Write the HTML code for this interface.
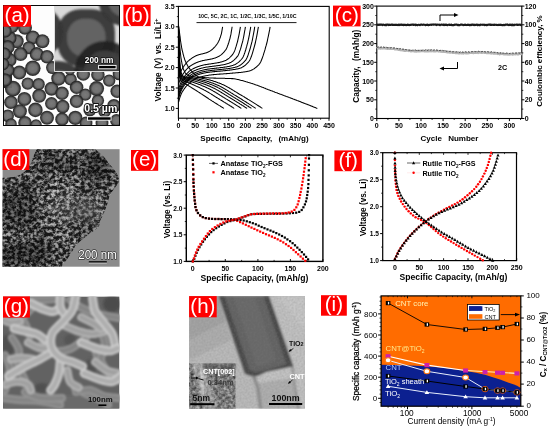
<!DOCTYPE html>
<html><head><meta charset="utf-8"><title>Figure</title>
<style>
html,body{margin:0;padding:0;background:#fff;}
body{width:550px;height:428px;overflow:hidden;font-family:'Liberation Sans', sans-serif;}
svg{display:block;font-family:'Liberation Sans', sans-serif;}
</style></head><body>
<svg width="550" height="428" viewBox="0 0 550 428">
<defs>
<radialGradient id="sph" cx="50%" cy="50%" r="50%">
<stop offset="0" stop-color="#727272"/><stop offset="0.55" stop-color="#696969"/><stop offset="0.72" stop-color="#4a4a4a"/><stop offset="0.88" stop-color="#262626"/><stop offset="1" stop-color="#2e2e2e"/></radialGradient>
<radialGradient id="bigsph" cx="50%" cy="50%" r="50%">
<stop offset="0" stop-color="#6e6e6e"/><stop offset="0.7" stop-color="#606060"/><stop offset="0.8" stop-color="#3a3a3a"/><stop offset="0.95" stop-color="#2e2e2e"/><stop offset="1" stop-color="#555"/></radialGradient>
<clipPath id="clipA"><rect x="3" y="5" width="116.5" height="120.5"/></clipPath>
<clipPath id="clipAin"><rect x="54.5" y="6" width="65" height="65.5"/></clipPath>
<filter id="blurA" x="-5%" y="-5%" width="110%" height="110%"><feGaussianBlur stdDeviation="0.55"/></filter>
<filter id="blurAin" x="-5%" y="-5%" width="110%" height="110%"><feGaussianBlur stdDeviation="1.3"/></filter>

<clipPath id="clipD"><rect x="2.6" y="149.2" width="117" height="117.5"/></clipPath>
<filter id="texD" x="0" y="0" width="100%" height="100%" filterUnits="objectBoundingBox" color-interpolation-filters="sRGB">
<feTurbulence type="fractalNoise" baseFrequency="0.27 0.3" numOctaves="3" seed="11" result="n"/>
<feColorMatrix in="n" type="matrix" values="3.0 0 0 0 -1.12  3.0 0 0 0 -1.12  3.0 0 0 0 -1.12  0 0 0 0 1" result="fine"/>
<feTurbulence type="fractalNoise" baseFrequency="0.03 0.035" numOctaves="2" seed="8" result="n2"/>
<feColorMatrix in="n2" type="matrix" values="0 0.8 0 0 0.42  0 0.8 0 0 0.42  0 0.8 0 0 0.42  0 0 0 0 1" result="low"/>
<feComposite in="fine" in2="low" operator="arithmetic" k1="0.75" k2="0.14" k3="0.06" k4="0.05" result="m0"/>
<feColorMatrix in="m0" type="matrix" values="0.74 0 0 0 0.02  0 0.74 0 0 0.02  0 0 0.74 0 0.02  0 0 0 0 1" result="m"/>
<feComposite in="m" in2="SourceGraphic" operator="in" result="c"/>
<feGaussianBlur in="c" stdDeviation="0.5"/>
</filter>
<clipPath id="clipDb"><path d="M0 178 L14 177 C22 175 28 170 31 163 C33 157 35 152 38 147 L92 147 C98 151 103 155 108 162 C113 169 120 175 119 182 C115 188 111 192 109 198 C107 206 104 214 99.5 222 C101 226 96 230 90 233 C85 238 79 241 75 247 C71 253 68 259 63 264 L60 270 L0 270 Z"/></clipPath><filter id="blurD2" x="-20%" y="-20%" width="140%" height="140%"><feGaussianBlur stdDeviation="5"/></filter>
<clipPath id="clipG"><rect x="3" y="296.4" width="116.5" height="112.3"/></clipPath>
<filter id="blurG" x="-5%" y="-5%" width="110%" height="110%"><feGaussianBlur stdDeviation="0.85"/></filter>
<filter id="blurG2" x="-5%" y="-5%" width="110%" height="110%"><feGaussianBlur stdDeviation="1.6"/></filter>
<clipPath id="clipH"><rect x="189" y="296" width="116" height="112.8"/></clipPath>
<filter id="blurH" x="-5%" y="-5%" width="110%" height="110%"><feGaussianBlur stdDeviation="0.8"/></filter>
<filter id="blurH2" x="-10%" y="-10%" width="120%" height="120%"><feGaussianBlur stdDeviation="1.8"/></filter>
<filter id="texH" x="0" y="0" width="100%" height="100%" color-interpolation-filters="sRGB">
<feTurbulence type="fractalNoise" baseFrequency="0.33" numOctaves="2" seed="4" result="n"/>
<feColorMatrix in="n" type="matrix" values="0.75 0 0 0 0.1  0.75 0 0 0 0.1  0.75 0 0 0 0.1  0 0 0 0 1" result="g"/>
<feComposite in="g" in2="SourceGraphic" operator="in"/>
<feGaussianBlur stdDeviation="0.45"/>
</filter>
<filter id="grainH" x="0" y="0" width="100%" height="100%" color-interpolation-filters="sRGB">
<feTurbulence type="fractalNoise" baseFrequency="0.5" numOctaves="2" seed="9" result="n"/>
<feColorMatrix in="n" type="matrix" values="0 0 0 0 0.5  0 0 0 0 0.5  0 0 0 0 0.5  1.6 0 0 0 -0.55" result="g"/>
<feComposite in="g" in2="SourceGraphic" operator="in"/>
<feGaussianBlur stdDeviation="0.35"/>
</filter>
</defs>
<rect x="3" y="5" width="116.5" height="120.5" fill="#fdfdfd"/>
<g clip-path="url(#clipA)"><g filter="url(#blurA)">
<rect x="3" y="28" width="9" height="60" fill="#2c2c2c"/>
<circle cx="16.7" cy="41.2" r="7.0" fill="url(#sph)" opacity="0.95"/>
<circle cx="32.8" cy="37.4" r="7.0" fill="url(#sph)" opacity="0.95"/>
<circle cx="42.4" cy="41.2" r="7.0" fill="url(#sph)" opacity="0.95"/>
<circle cx="28.9" cy="47.7" r="6.5" fill="url(#sph)" opacity="0.95"/>
<circle cx="20.6" cy="54.1" r="7.0" fill="url(#sph)" opacity="0.95"/>
<circle cx="36.7" cy="54.1" r="7.0" fill="url(#sph)" opacity="0.95"/>
<circle cx="47" cy="56.7" r="6.8" fill="url(#sph)" opacity="0.95"/>
<circle cx="9.6" cy="38" r="7.0" fill="url(#sph)" opacity="0.95"/>
<circle cx="7.7" cy="47" r="7.0" fill="url(#sph)" opacity="0.95"/>
<circle cx="9.6" cy="59.9" r="7.0" fill="url(#sph)" opacity="0.95"/>
<circle cx="32.8" cy="68.2" r="7.8" fill="url(#sph)" opacity="0.95"/>
<circle cx="19.3" cy="72.5" r="7.0" fill="url(#sph)" opacity="0.95"/>
<circle cx="7.7" cy="70.2" r="6.8" fill="url(#sph)" opacity="0.95"/>
<circle cx="25" cy="27.7" r="7.0" fill="url(#sph)" opacity="0.95"/>
<circle cx="11.6" cy="26.4" r="7.0" fill="url(#sph)" opacity="0.95"/>
<circle cx="5" cy="31" r="6.8" fill="url(#sph)" opacity="0.95"/>
<circle cx="4" cy="54" r="6.8" fill="url(#sph)" opacity="0.95"/>
<circle cx="52.5" cy="67.6" r="6.5" fill="url(#sph)" opacity="0.95"/>
<circle cx="3" cy="64" r="6.3" fill="url(#sph)" opacity="0.95"/>
<circle cx="12.9" cy="88.7" r="8.0" fill="url(#sph)" opacity="0.95"/>
<circle cx="27.7" cy="83.6" r="6.2" fill="url(#sph)" opacity="0.95"/>
<circle cx="38.6" cy="84.2" r="6.2" fill="url(#sph)" opacity="0.95"/>
<circle cx="24.4" cy="99" r="7.0" fill="url(#sph)" opacity="0.95"/>
<circle cx="39.2" cy="95.8" r="7.0" fill="url(#sph)" opacity="0.95"/>
<circle cx="51.5" cy="88.7" r="7.0" fill="url(#sph)" opacity="0.95"/>
<circle cx="58.5" cy="78.4" r="7.3" fill="url(#sph)" opacity="0.95"/>
<circle cx="10.9" cy="102.2" r="6.8" fill="url(#sph)" opacity="0.95"/>
<circle cx="19.9" cy="111.2" r="7.0" fill="url(#sph)" opacity="0.95"/>
<circle cx="35.4" cy="109.9" r="7.3" fill="url(#sph)" opacity="0.95"/>
<circle cx="51.5" cy="103.5" r="6.5" fill="url(#sph)" opacity="0.95"/>
<circle cx="47" cy="117.7" r="7.0" fill="url(#sph)" opacity="0.95"/>
<circle cx="25" cy="122.8" r="6.8" fill="url(#sph)" opacity="0.95"/>
<circle cx="7.7" cy="115.7" r="6.3" fill="url(#sph)" opacity="0.95"/>
<circle cx="5" cy="80" r="6.8" fill="url(#sph)" opacity="0.95"/>
<circle cx="11" cy="124" r="5.8" fill="url(#sph)" opacity="0.95"/>
<circle cx="36" cy="125" r="5.8" fill="url(#sph)" opacity="0.95"/>
<circle cx="70.6" cy="79.3" r="6.2" fill="url(#sph)" opacity="0.95"/>
<circle cx="83.3" cy="74" r="6.8" fill="url(#sph)" opacity="0.95"/>
<circle cx="97.9" cy="74.7" r="6.8" fill="url(#sph)" opacity="0.95"/>
<circle cx="109.2" cy="80.6" r="6.2" fill="url(#sph)" opacity="0.95"/>
<circle cx="76.6" cy="87.3" r="6.8" fill="url(#sph)" opacity="0.95"/>
<circle cx="96.6" cy="88.6" r="7.5" fill="url(#sph)" opacity="0.95"/>
<circle cx="117.2" cy="91.3" r="6.8" fill="url(#sph)" opacity="0.95"/>
<circle cx="62" cy="93.3" r="6.8" fill="url(#sph)" opacity="0.95"/>
<circle cx="85.3" cy="94.6" r="6.2" fill="url(#sph)" opacity="0.95"/>
<circle cx="76.6" cy="101.3" r="6.8" fill="url(#sph)" opacity="0.95"/>
<circle cx="97.9" cy="100.6" r="6.2" fill="url(#sph)" opacity="0.95"/>
<circle cx="113.9" cy="105.9" r="6.8" fill="url(#sph)" opacity="0.95"/>
<circle cx="62.7" cy="106.6" r="6.8" fill="url(#sph)" opacity="0.95"/>
<circle cx="75.3" cy="117.9" r="7.2" fill="url(#sph)" opacity="0.95"/>
<circle cx="62" cy="119.2" r="6.8" fill="url(#sph)" opacity="0.95"/>
<circle cx="89.9" cy="109.9" r="6.5" fill="url(#sph)" opacity="0.95"/>
<circle cx="86" cy="123" r="6.5" fill="url(#sph)" opacity="0.95"/>
<circle cx="102" cy="123" r="6.5" fill="url(#sph)" opacity="0.95"/>
<circle cx="116.5" cy="120.5" r="6.5" fill="url(#sph)" opacity="0.95"/>
<circle cx="104.6" cy="111.5" r="6.3" fill="url(#sph)" opacity="0.95"/>
<circle cx="119" cy="74" r="6.3" fill="url(#sph)" opacity="0.95"/>
<circle cx="70" cy="70" r="5.3" fill="url(#sph)" opacity="0.95"/>
</g></g>
<g clip-path="url(#clipAin)"><rect x="54" y="5" width="66" height="67" fill="#d9d9d9"/><g filter="url(#blurAin)">
<rect x="10.0" y="5.5" width="53.0" height="53.0" rx="26.5" fill="#343434" opacity="0.94"/>
<rect x="19.5" y="15.0" width="34.0" height="34.0" rx="17.0" fill="#676767" opacity="0.94"/>
<rect x="98.5" y="-26.0" width="52.0" height="52.0" rx="26.0" fill="#343434" opacity="0.94"/>
<rect x="108.0" y="-16.5" width="33.0" height="33.0" rx="16.5" fill="#676767" opacity="0.94"/>
<rect x="31.0" y="61.0" width="54.0" height="54.0" rx="27.0" fill="#343434" opacity="0.94"/>
<rect x="40.5" y="70.5" width="35.0" height="35.0" rx="17.5" fill="#676767" opacity="0.94"/>
<rect x="57.7" y="9.2" width="57.2" height="57.2" rx="22.5" fill="#343434" opacity="0.94"/>
<rect x="67.2" y="18.7" width="38.2" height="38.2" rx="17.5" fill="#676767" opacity="0.94"/>
<rect x="74.5" y="41.0" width="61.0" height="61.0" rx="30.5" fill="#1e1e1e" opacity="0.9"/>
<rect x="84.0" y="50.5" width="42.0" height="42.0" rx="21.0" fill="#404040" opacity="0.9"/>
</g></g>
<path d="M54.5 6 V71.5 H119" fill="none" stroke="#ddd" stroke-width="1"/>
<rect x="3.5" y="5.5" width="116" height="120" fill="none" stroke="#0a0a0a" stroke-width="1"/>
<text x="99.1" y="62.6" font-size="8.3" font-weight="bold" text-anchor="middle" fill="#fff" stroke="#111" stroke-width="1.5" paint-order="stroke" stroke-linejoin="round">200 nm</text>
<rect x="98.6" y="65.4" width="17.5" height="3.4" fill="#000" stroke="#fff" stroke-width="0.9"/>
<text x="100.8" y="112.2" font-size="10.5" font-weight="bold" text-anchor="middle" fill="#fff" stroke="#111" stroke-width="1.8" paint-order="stroke" stroke-linejoin="round">0.5 µm</text>
<rect x="87.5" y="116.8" width="23.6" height="3.4" fill="#000" stroke="#fff" stroke-width="0.9"/>
<rect x="3.3" y="5.3" width="27.7" height="21.4" fill="#fe0000"/>
<text x="17.1" y="22.3" font-size="20.5" text-anchor="middle" fill="#fff" font-weight="normal">(a)</text>
<rect x="123.4" y="4.8" width="27.2" height="21.3" fill="#fe0000"/>
<text x="137.0" y="21.7" font-size="20.5" text-anchor="middle" fill="#fff" font-weight="normal">(b)</text>
<rect x="178.4" y="6.4" width="150.8" height="111.8" fill="#fff" stroke="#000" stroke-width="1.1"/>
<line x1="178.5" y1="118.2" x2="178.5" y2="120.8" stroke="#000" stroke-width="1"/>
<text x="178.5" y="127.9" font-size="7.0" font-weight="bold" text-anchor="middle" fill="#000" >0</text>
<line x1="186.9" y1="118.2" x2="186.9" y2="119.7" stroke="#000" stroke-width="0.8"/>
<line x1="195.2" y1="118.2" x2="195.2" y2="120.8" stroke="#000" stroke-width="1"/>
<text x="195.2" y="127.9" font-size="7.0" font-weight="bold" text-anchor="middle" fill="#000" >50</text>
<line x1="203.6" y1="118.2" x2="203.6" y2="119.7" stroke="#000" stroke-width="0.8"/>
<line x1="211.9" y1="118.2" x2="211.9" y2="120.8" stroke="#000" stroke-width="1"/>
<text x="211.9" y="127.9" font-size="7.0" font-weight="bold" text-anchor="middle" fill="#000" >100</text>
<line x1="220.3" y1="118.2" x2="220.3" y2="119.7" stroke="#000" stroke-width="0.8"/>
<line x1="228.7" y1="118.2" x2="228.7" y2="120.8" stroke="#000" stroke-width="1"/>
<text x="228.7" y="127.9" font-size="7.0" font-weight="bold" text-anchor="middle" fill="#000" >150</text>
<line x1="237.0" y1="118.2" x2="237.0" y2="119.7" stroke="#000" stroke-width="0.8"/>
<line x1="245.4" y1="118.2" x2="245.4" y2="120.8" stroke="#000" stroke-width="1"/>
<text x="245.4" y="127.9" font-size="7.0" font-weight="bold" text-anchor="middle" fill="#000" >200</text>
<line x1="253.7" y1="118.2" x2="253.7" y2="119.7" stroke="#000" stroke-width="0.8"/>
<line x1="262.1" y1="118.2" x2="262.1" y2="120.8" stroke="#000" stroke-width="1"/>
<text x="262.1" y="127.9" font-size="7.0" font-weight="bold" text-anchor="middle" fill="#000" >250</text>
<line x1="270.5" y1="118.2" x2="270.5" y2="119.7" stroke="#000" stroke-width="0.8"/>
<line x1="278.8" y1="118.2" x2="278.8" y2="120.8" stroke="#000" stroke-width="1"/>
<text x="278.8" y="127.9" font-size="7.0" font-weight="bold" text-anchor="middle" fill="#000" >300</text>
<line x1="287.2" y1="118.2" x2="287.2" y2="119.7" stroke="#000" stroke-width="0.8"/>
<line x1="295.5" y1="118.2" x2="295.5" y2="120.8" stroke="#000" stroke-width="1"/>
<text x="295.5" y="127.9" font-size="7.0" font-weight="bold" text-anchor="middle" fill="#000" >350</text>
<line x1="303.9" y1="118.2" x2="303.9" y2="119.7" stroke="#000" stroke-width="0.8"/>
<line x1="312.3" y1="118.2" x2="312.3" y2="120.8" stroke="#000" stroke-width="1"/>
<text x="312.3" y="127.9" font-size="7.0" font-weight="bold" text-anchor="middle" fill="#000" >400</text>
<line x1="320.6" y1="118.2" x2="320.6" y2="119.7" stroke="#000" stroke-width="0.8"/>
<line x1="329.0" y1="118.2" x2="329.0" y2="120.8" stroke="#000" stroke-width="1"/>
<text x="329.0" y="127.9" font-size="7.0" font-weight="bold" text-anchor="middle" fill="#000" >450</text>
<line x1="175.8" y1="108.4" x2="178.4" y2="108.4" stroke="#000" stroke-width="1"/>
<text x="174.6" y="110.9" font-size="7.0" font-weight="bold" text-anchor="end" fill="#000" >1.0</text>
<line x1="176.9" y1="98.2" x2="178.4" y2="98.2" stroke="#000" stroke-width="0.8"/>
<line x1="175.8" y1="88.0" x2="178.4" y2="88.0" stroke="#000" stroke-width="1"/>
<text x="174.6" y="90.5" font-size="7.0" font-weight="bold" text-anchor="end" fill="#000" >1.5</text>
<line x1="176.9" y1="77.8" x2="178.4" y2="77.8" stroke="#000" stroke-width="0.8"/>
<line x1="175.8" y1="67.6" x2="178.4" y2="67.6" stroke="#000" stroke-width="1"/>
<text x="174.6" y="70.1" font-size="7.0" font-weight="bold" text-anchor="end" fill="#000" >2.0</text>
<line x1="176.9" y1="57.4" x2="178.4" y2="57.4" stroke="#000" stroke-width="0.8"/>
<line x1="175.8" y1="47.2" x2="178.4" y2="47.2" stroke="#000" stroke-width="1"/>
<text x="174.6" y="49.7" font-size="7.0" font-weight="bold" text-anchor="end" fill="#000" >2.5</text>
<line x1="176.9" y1="37.0" x2="178.4" y2="37.0" stroke="#000" stroke-width="0.8"/>
<line x1="175.8" y1="26.8" x2="178.4" y2="26.8" stroke="#000" stroke-width="1"/>
<text x="174.6" y="29.3" font-size="7.0" font-weight="bold" text-anchor="end" fill="#000" >3.0</text>
<line x1="176.9" y1="16.6" x2="178.4" y2="16.6" stroke="#000" stroke-width="0.8"/>
<line x1="175.8" y1="6.4" x2="178.4" y2="6.4" stroke="#000" stroke-width="1"/>
<text x="174.6" y="8.9" font-size="7.0" font-weight="bold" text-anchor="end" fill="#000" >3.5</text>
<text x="254.5" y="141.0" font-size="8.0" font-weight="bold" text-anchor="middle" fill="#000" word-spacing="4">Specific Capacity, (mAh/g)</text>
<text transform="translate(161.2,60) rotate(-90)" font-size="8.2" word-spacing="1.5" font-weight="bold" text-anchor="middle">Voltage (V) vs. Li/Li<tspan dy="-3" font-size="6">+</tspan></text>
<text x="296.5" y="18.3" font-size="5.3" font-weight="bold" text-anchor="end" fill="#000" >10C, 5C, 2C, 1C, 1/2C, 1/3C, 1/5C, 1/10C</text>
<line x1="196.5" y1="22.6" x2="296.5" y2="22.6" stroke="#000" stroke-width="0.9"/>
<path d="M178.5 26.8 L178.5 28.6 L178.5 32.0 L178.6 36.3 L178.6 41.0 L178.7 45.9 L178.7 50.7 L178.8 55.2 L178.9 59.3 L179.0 63.0 L179.0 66.3 L179.1 69.1 L179.2 71.5 L179.3 73.4 L179.4 75.1 L179.5 76.4 L179.6 77.4 L179.8 78.3 L179.9 78.9 L180.0 79.5 L180.1 79.9 L180.3 80.2 L180.4 80.5 L180.5 80.7 L180.7 80.9 L180.8 81.0 L181.0 81.2 L181.1 81.3 L181.3 81.4 L181.5 81.5 L181.6 81.6 L181.8 81.7 L182.0 81.8 L182.1 82.0 L182.3 82.1 L182.5 82.2 L182.7 82.3 L182.9 82.4 L183.1 82.5 L183.3 82.6 L183.4 82.7 L183.6 82.9 L183.9 83.0 L184.1 83.1 L184.3 83.2 L184.5 83.3 L184.7 83.5 L184.9 83.6 L185.1 83.7 L185.3 83.9 L185.6 84.0 L185.8 84.1 L186.0 84.3 L186.3 84.4 L186.5 84.6 L186.7 84.7 L187.0 84.8 L187.2 85.0 L187.5 85.1 L187.7 85.3 L188.0 85.4 L188.2 85.6 L188.5 85.8 L188.7 85.9 L189.0 86.1 L189.3 86.2 L189.5 86.4 L189.8 86.6 L190.1 86.7 L190.3 86.9 L190.6 87.1 L190.9 87.2 L191.2 87.4 L191.5 87.6 L191.7 87.8 L192.0 87.9 L192.3 88.1 L192.6 88.3 L192.9 88.5 L193.2 88.7 L193.5 88.9 L193.8 89.0 L194.1 89.2 L194.4 89.4 L194.7 89.6 L195.0 89.8 L195.3 90.0 L195.7 90.2 L196.0 90.4 L196.3 90.6 L196.6 90.8 L196.9 91.0 L197.3 91.2 L197.6 91.4 L197.9 91.6 L198.3 91.9 L198.6 92.1 L198.9 92.3 L199.3 92.5 L199.6 92.7 L199.9 93.0 L200.3 93.2 L200.6 93.4 L201.0 93.6 L201.3 93.9 L201.7 94.1 L202.0 94.3 L202.4 94.6 L202.7 94.8 L203.1 95.1 L203.5 95.3 L203.8 95.5 L204.2 95.8 L204.6 96.0 L204.9 96.3 L205.3 96.5 L205.7 96.8 L206.1 97.0 L206.4 97.3 L206.8 97.5 L207.2 97.8 L207.6 98.0 L208.0 98.3 L208.4 98.5 L208.7 98.8 L209.1 99.1 L209.5 99.3 L209.9 99.6 L210.3 99.8 L210.7 100.1 L211.1 100.3 L211.5 100.6 L211.9 100.9 L212.3 101.1 L212.7 101.4 L213.2 101.6 L213.6 101.9 L214.0 102.2 L214.4 102.4 L214.8 102.7 L215.2 103.0 L215.7 103.2 L216.1 103.5 L216.5 103.8 L216.9 104.0 L217.4 104.3 L217.8 104.6 L218.2 104.8 L218.6 105.1 L219.1 105.4 L219.5 105.6 L220.0 105.9 L220.4 106.2 L220.8 106.5 L221.3 106.7 L221.7 107.0 L222.2 107.3 L222.6 107.6 L223.1 107.8 L223.5 108.1 L224.0 108.4" fill="none" stroke="#000" stroke-width="1.05" stroke-linejoin="round"/>
<path d="M178.5 26.8 L178.5 28.5 L178.6 31.8 L178.6 35.9 L178.7 40.5 L178.7 45.2 L178.8 49.9 L178.9 54.3 L179.0 58.3 L179.1 61.9 L179.2 65.1 L179.3 67.9 L179.4 70.2 L179.5 72.2 L179.6 73.8 L179.8 75.1 L179.9 76.2 L180.0 77.0 L180.2 77.7 L180.3 78.2 L180.5 78.6 L180.7 78.9 L180.8 79.2 L181.0 79.4 L181.2 79.6 L181.4 79.7 L181.6 79.8 L181.7 79.9 L181.9 80.0 L182.1 80.1 L182.3 80.2 L182.5 80.3 L182.8 80.4 L183.0 80.5 L183.2 80.6 L183.4 80.7 L183.6 80.8 L183.9 80.9 L184.1 80.9 L184.3 81.0 L184.6 81.1 L184.8 81.2 L185.1 81.3 L185.3 81.4 L185.6 81.5 L185.8 81.6 L186.1 81.7 L186.4 81.8 L186.6 82.0 L186.9 82.1 L187.2 82.2 L187.5 82.3 L187.7 82.4 L188.0 82.5 L188.3 82.6 L188.6 82.8 L188.9 82.9 L189.2 83.0 L189.5 83.1 L189.8 83.3 L190.1 83.4 L190.4 83.5 L190.8 83.7 L191.1 83.8 L191.4 83.9 L191.7 84.1 L192.0 84.2 L192.4 84.4 L192.7 84.5 L193.0 84.7 L193.4 84.8 L193.7 85.0 L194.1 85.1 L194.4 85.3 L194.8 85.4 L195.1 85.6 L195.5 85.8 L195.8 85.9 L196.2 86.1 L196.6 86.3 L196.9 86.4 L197.3 86.6 L197.7 86.8 L198.0 87.0 L198.4 87.1 L198.8 87.3 L199.2 87.5 L199.6 87.7 L200.0 87.9 L200.3 88.1 L200.7 88.3 L201.1 88.5 L201.5 88.7 L201.9 88.9 L202.3 89.1 L202.8 89.3 L203.2 89.5 L203.6 89.7 L204.0 89.9 L204.4 90.2 L204.8 90.4 L205.2 90.6 L205.7 90.8 L206.1 91.1 L206.5 91.3 L207.0 91.6 L207.4 91.8 L207.8 92.1 L208.3 92.3 L208.7 92.6 L209.2 92.8 L209.6 93.1 L210.1 93.4 L210.5 93.6 L211.0 93.9 L211.4 94.2 L211.9 94.5 L212.3 94.8 L212.8 95.1 L213.3 95.4 L213.7 95.7 L214.2 96.0 L214.7 96.3 L215.2 96.6 L215.6 96.9 L216.1 97.2 L216.6 97.5 L217.1 97.8 L217.6 98.1 L218.1 98.4 L218.6 98.7 L219.1 99.0 L219.5 99.3 L220.0 99.6 L220.5 99.9 L221.1 100.2 L221.6 100.5 L222.1 100.8 L222.6 101.1 L223.1 101.5 L223.6 101.8 L224.1 102.1 L224.6 102.4 L225.2 102.7 L225.7 103.0 L226.2 103.4 L226.7 103.7 L227.3 104.0 L227.8 104.3 L228.3 104.7 L228.9 105.0 L229.4 105.3 L229.9 105.7 L230.5 106.0 L231.0 106.3 L231.6 106.7 L232.1 107.0 L232.7 107.4 L233.2 107.7 L233.8 108.1 L234.3 108.4" fill="none" stroke="#000" stroke-width="1.05" stroke-linejoin="round"/>
<path d="M178.5 26.8 L178.5 28.4 L178.6 31.4 L178.6 35.3 L178.7 39.6 L178.7 44.0 L178.8 48.4 L178.9 52.7 L179.0 56.6 L179.1 60.2 L179.2 63.3 L179.4 66.1 L179.5 68.5 L179.6 70.5 L179.8 72.2 L179.9 73.6 L180.1 74.7 L180.2 75.6 L180.4 76.3 L180.6 76.9 L180.8 77.4 L180.9 77.7 L181.1 78.0 L181.3 78.3 L181.5 78.4 L181.7 78.6 L181.9 78.7 L182.1 78.8 L182.4 78.9 L182.6 79.0 L182.8 79.1 L183.0 79.2 L183.3 79.3 L183.5 79.3 L183.8 79.4 L184.0 79.5 L184.3 79.5 L184.5 79.6 L184.8 79.7 L185.1 79.8 L185.3 79.9 L185.6 79.9 L185.9 80.0 L186.2 80.1 L186.5 80.2 L186.8 80.3 L187.1 80.4 L187.4 80.4 L187.7 80.5 L188.0 80.6 L188.3 80.7 L188.6 80.8 L188.9 80.9 L189.2 81.0 L189.6 81.1 L189.9 81.2 L190.2 81.3 L190.6 81.4 L190.9 81.5 L191.2 81.7 L191.6 81.8 L191.9 81.9 L192.3 82.0 L192.7 82.1 L193.0 82.2 L193.4 82.4 L193.7 82.5 L194.1 82.6 L194.5 82.8 L194.9 82.9 L195.2 83.0 L195.6 83.2 L196.0 83.3 L196.4 83.4 L196.8 83.6 L197.2 83.7 L197.6 83.9 L198.0 84.0 L198.4 84.2 L198.8 84.3 L199.2 84.5 L199.7 84.6 L200.1 84.8 L200.5 85.0 L200.9 85.1 L201.4 85.3 L201.8 85.5 L202.2 85.7 L202.7 85.9 L203.1 86.0 L203.5 86.2 L204.0 86.4 L204.4 86.6 L204.9 86.8 L205.3 87.0 L205.8 87.2 L206.3 87.4 L206.7 87.7 L207.2 87.9 L207.7 88.1 L208.1 88.3 L208.6 88.5 L209.1 88.8 L209.6 89.0 L210.1 89.3 L210.5 89.5 L211.0 89.8 L211.5 90.0 L212.0 90.3 L212.5 90.6 L213.0 90.9 L213.5 91.2 L214.0 91.4 L214.5 91.7 L215.0 92.0 L215.6 92.4 L216.1 92.7 L216.6 93.0 L217.1 93.3 L217.6 93.6 L218.2 94.0 L218.7 94.3 L219.2 94.6 L219.8 95.0 L220.3 95.3 L220.9 95.6 L221.4 96.0 L221.9 96.3 L222.5 96.7 L223.0 97.0 L223.6 97.4 L224.2 97.7 L224.7 98.0 L225.3 98.4 L225.8 98.7 L226.4 99.1 L227.0 99.4 L227.5 99.8 L228.1 100.1 L228.7 100.5 L229.3 100.8 L229.9 101.2 L230.4 101.5 L231.0 101.9 L231.6 102.3 L232.2 102.6 L232.8 103.0 L233.4 103.4 L234.0 103.7 L234.6 104.1 L235.2 104.5 L235.8 104.9 L236.4 105.3 L237.0 105.6 L237.6 106.0 L238.3 106.4 L238.9 106.8 L239.5 107.2 L240.1 107.6 L240.7 108.0 L241.4 108.4" fill="none" stroke="#000" stroke-width="1.05" stroke-linejoin="round"/>
<path d="M178.5 26.8 L178.5 28.2 L178.6 30.9 L178.6 34.3 L178.7 38.2 L178.8 42.3 L178.9 46.4 L179.0 50.4 L179.1 54.1 L179.2 57.6 L179.3 60.8 L179.4 63.6 L179.6 66.0 L179.7 68.2 L179.9 70.0 L180.1 71.5 L180.2 72.8 L180.4 73.9 L180.6 74.8 L180.8 75.5 L181.0 76.1 L181.2 76.5 L181.4 76.9 L181.6 77.2 L181.8 77.4 L182.0 77.6 L182.2 77.8 L182.5 77.9 L182.7 78.0 L183.0 78.1 L183.2 78.2 L183.5 78.3 L183.7 78.4 L184.0 78.4 L184.3 78.5 L184.5 78.6 L184.8 78.6 L185.1 78.7 L185.4 78.8 L185.7 78.8 L186.0 78.9 L186.3 79.0 L186.6 79.0 L186.9 79.1 L187.2 79.2 L187.5 79.2 L187.8 79.3 L188.2 79.4 L188.5 79.5 L188.8 79.5 L189.2 79.6 L189.5 79.7 L189.9 79.8 L190.2 79.9 L190.6 80.0 L190.9 80.1 L191.3 80.1 L191.6 80.2 L192.0 80.3 L192.4 80.4 L192.8 80.5 L193.2 80.6 L193.5 80.8 L193.9 80.9 L194.3 81.0 L194.7 81.1 L195.1 81.2 L195.5 81.3 L195.9 81.4 L196.3 81.6 L196.8 81.7 L197.2 81.8 L197.6 81.9 L198.0 82.1 L198.5 82.2 L198.9 82.3 L199.3 82.5 L199.8 82.6 L200.2 82.7 L200.7 82.9 L201.1 83.0 L201.6 83.2 L202.0 83.3 L202.5 83.5 L202.9 83.7 L203.4 83.8 L203.9 84.0 L204.4 84.2 L204.8 84.3 L205.3 84.5 L205.8 84.7 L206.3 84.9 L206.8 85.1 L207.3 85.3 L207.8 85.5 L208.3 85.7 L208.8 85.9 L209.3 86.1 L209.8 86.3 L210.3 86.6 L210.8 86.8 L211.3 87.0 L211.9 87.2 L212.4 87.5 L212.9 87.7 L213.4 88.0 L214.0 88.2 L214.5 88.5 L215.1 88.8 L215.6 89.1 L216.1 89.4 L216.7 89.7 L217.2 90.0 L217.8 90.3 L218.4 90.6 L218.9 91.0 L219.5 91.3 L220.0 91.6 L220.6 92.0 L221.2 92.3 L221.8 92.7 L222.3 93.0 L222.9 93.4 L223.5 93.8 L224.1 94.1 L224.7 94.5 L225.3 94.9 L225.9 95.2 L226.5 95.6 L227.1 96.0 L227.7 96.4 L228.3 96.7 L228.9 97.1 L229.5 97.5 L230.1 97.8 L230.7 98.2 L231.4 98.6 L232.0 99.0 L232.6 99.3 L233.2 99.7 L233.9 100.1 L234.5 100.5 L235.1 100.9 L235.8 101.3 L236.4 101.7 L237.1 102.1 L237.7 102.5 L238.4 102.9 L239.0 103.3 L239.7 103.7 L240.3 104.1 L241.0 104.5 L241.7 105.0 L242.3 105.4 L243.0 105.8 L243.7 106.2 L244.3 106.7 L245.0 107.1 L245.7 107.5 L246.4 108.0 L247.1 108.4" fill="none" stroke="#000" stroke-width="1.05" stroke-linejoin="round"/>
<path d="M178.5 26.8 L178.5 28.0 L178.6 30.4 L178.6 33.5 L178.7 37.1 L178.8 40.8 L178.9 44.6 L179.0 48.3 L179.1 51.9 L179.2 55.3 L179.4 58.4 L179.5 61.2 L179.7 63.7 L179.8 65.9 L180.0 67.8 L180.2 69.5 L180.3 70.9 L180.5 72.1 L180.7 73.1 L180.9 74.0 L181.1 74.7 L181.3 75.2 L181.5 75.7 L181.8 76.0 L182.0 76.4 L182.2 76.6 L182.5 76.8 L182.7 77.0 L183.0 77.1 L183.2 77.2 L183.5 77.3 L183.8 77.4 L184.1 77.5 L184.3 77.5 L184.6 77.6 L184.9 77.7 L185.2 77.7 L185.5 77.8 L185.8 77.8 L186.1 77.9 L186.4 77.9 L186.8 78.0 L187.1 78.0 L187.4 78.1 L187.7 78.2 L188.1 78.2 L188.4 78.3 L188.8 78.3 L189.1 78.4 L189.5 78.5 L189.8 78.5 L190.2 78.6 L190.6 78.7 L190.9 78.7 L191.3 78.8 L191.7 78.9 L192.1 79.0 L192.5 79.1 L192.9 79.1 L193.3 79.2 L193.7 79.3 L194.1 79.4 L194.5 79.5 L194.9 79.6 L195.3 79.7 L195.8 79.8 L196.2 79.9 L196.6 80.0 L197.0 80.1 L197.5 80.2 L197.9 80.3 L198.4 80.4 L198.8 80.6 L199.3 80.7 L199.7 80.8 L200.2 80.9 L200.7 81.0 L201.1 81.2 L201.6 81.3 L202.1 81.4 L202.5 81.6 L203.0 81.7 L203.5 81.9 L204.0 82.0 L204.5 82.2 L205.0 82.3 L205.5 82.5 L206.0 82.7 L206.5 82.8 L207.0 83.0 L207.5 83.2 L208.1 83.4 L208.6 83.6 L209.1 83.8 L209.6 84.0 L210.2 84.2 L210.7 84.4 L211.2 84.6 L211.8 84.8 L212.3 85.0 L212.9 85.2 L213.4 85.5 L214.0 85.7 L214.5 85.9 L215.1 86.2 L215.7 86.5 L216.2 86.7 L216.8 87.0 L217.4 87.3 L217.9 87.6 L218.5 87.9 L219.1 88.2 L219.7 88.5 L220.3 88.9 L220.9 89.2 L221.5 89.6 L222.1 89.9 L222.7 90.3 L223.3 90.7 L223.9 91.0 L224.5 91.4 L225.1 91.8 L225.7 92.2 L226.4 92.6 L227.0 93.0 L227.6 93.4 L228.2 93.8 L228.9 94.2 L229.5 94.6 L230.2 95.0 L230.8 95.4 L231.4 95.8 L232.1 96.2 L232.7 96.6 L233.4 97.0 L234.0 97.4 L234.7 97.8 L235.4 98.2 L236.0 98.6 L236.7 99.0 L237.4 99.4 L238.0 99.8 L238.7 100.2 L239.4 100.7 L240.1 101.1 L240.8 101.5 L241.5 102.0 L242.2 102.4 L242.9 102.8 L243.5 103.3 L244.2 103.7 L244.9 104.2 L245.7 104.6 L246.4 105.1 L247.1 105.6 L247.8 106.0 L248.5 106.5 L249.2 107.0 L249.9 107.4 L250.7 107.9 L251.4 108.4" fill="none" stroke="#000" stroke-width="1.05" stroke-linejoin="round"/>
<path d="M178.5 26.8 L178.5 27.9 L178.6 29.9 L178.6 32.6 L178.7 35.7 L178.8 39.0 L178.9 42.4 L179.0 45.8 L179.1 49.1 L179.3 52.3 L179.4 55.3 L179.6 58.1 L179.7 60.6 L179.9 62.9 L180.1 65.0 L180.2 66.8 L180.4 68.4 L180.6 69.8 L180.8 70.9 L181.1 72.0 L181.3 72.8 L181.5 73.5 L181.7 74.2 L182.0 74.7 L182.2 75.1 L182.5 75.4 L182.7 75.7 L183.0 76.0 L183.3 76.1 L183.5 76.3 L183.8 76.4 L184.1 76.6 L184.4 76.7 L184.7 76.7 L185.0 76.8 L185.3 76.9 L185.6 76.9 L185.9 77.0 L186.2 77.0 L186.6 77.1 L186.9 77.1 L187.2 77.2 L187.6 77.2 L187.9 77.3 L188.3 77.3 L188.6 77.4 L189.0 77.4 L189.4 77.5 L189.8 77.5 L190.1 77.6 L190.5 77.7 L190.9 77.7 L191.3 77.8 L191.7 77.8 L192.1 77.9 L192.5 78.0 L192.9 78.0 L193.3 78.1 L193.7 78.2 L194.2 78.3 L194.6 78.3 L195.0 78.4 L195.4 78.5 L195.9 78.6 L196.3 78.7 L196.8 78.8 L197.2 78.9 L197.7 79.0 L198.1 79.0 L198.6 79.1 L199.1 79.2 L199.6 79.4 L200.0 79.5 L200.5 79.6 L201.0 79.7 L201.5 79.8 L202.0 79.9 L202.5 80.0 L203.0 80.2 L203.5 80.3 L204.0 80.4 L204.5 80.5 L205.0 80.7 L205.5 80.8 L206.1 81.0 L206.6 81.1 L207.1 81.3 L207.6 81.5 L208.2 81.6 L208.7 81.8 L209.3 82.0 L209.8 82.2 L210.4 82.3 L210.9 82.5 L211.5 82.7 L212.0 82.9 L212.6 83.1 L213.2 83.3 L213.8 83.6 L214.3 83.8 L214.9 84.0 L215.5 84.2 L216.1 84.5 L216.7 84.7 L217.3 85.0 L217.9 85.2 L218.5 85.5 L219.1 85.8 L219.7 86.1 L220.3 86.4 L220.9 86.7 L221.5 87.1 L222.2 87.4 L222.8 87.7 L223.4 88.1 L224.0 88.5 L224.7 88.8 L225.3 89.2 L226.0 89.6 L226.6 90.0 L227.3 90.4 L227.9 90.8 L228.6 91.2 L229.2 91.6 L229.9 92.0 L230.5 92.4 L231.2 92.9 L231.9 93.3 L232.6 93.7 L233.2 94.1 L233.9 94.6 L234.6 95.0 L235.3 95.4 L236.0 95.8 L236.7 96.3 L237.4 96.7 L238.1 97.1 L238.8 97.5 L239.5 98.0 L240.2 98.4 L240.9 98.8 L241.6 99.3 L242.3 99.7 L243.0 100.2 L243.8 100.6 L244.5 101.1 L245.2 101.5 L246.0 102.0 L246.7 102.5 L247.4 103.0 L248.2 103.4 L248.9 103.9 L249.7 104.4 L250.4 104.9 L251.2 105.4 L251.9 105.9 L252.7 106.4 L253.4 106.9 L254.2 107.4 L255.0 107.9 L255.7 108.4" fill="none" stroke="#000" stroke-width="1.05" stroke-linejoin="round"/>
<path d="M178.5 26.8 L178.5 27.3 L178.6 28.3 L178.6 29.6 L178.7 31.1 L178.8 32.8 L178.9 34.7 L179.1 36.6 L179.2 38.7 L179.3 40.8 L179.5 42.9 L179.7 44.9 L179.8 47.0 L180.0 49.0 L180.2 51.0 L180.4 52.9 L180.6 54.7 L180.8 56.5 L181.0 58.1 L181.3 59.7 L181.5 61.2 L181.8 62.5 L182.0 63.8 L182.3 65.0 L182.5 66.1 L182.8 67.2 L183.1 68.1 L183.4 69.0 L183.7 69.8 L184.0 70.5 L184.3 71.1 L184.6 71.7 L184.9 72.3 L185.2 72.8 L185.5 73.2 L185.9 73.6 L186.2 74.0 L186.6 74.3 L186.9 74.6 L187.3 74.8 L187.6 75.1 L188.0 75.3 L188.4 75.4 L188.8 75.6 L189.1 75.8 L189.5 75.9 L189.9 76.0 L190.3 76.1 L190.7 76.2 L191.1 76.3 L191.6 76.4 L192.0 76.5 L192.4 76.6 L192.8 76.7 L193.3 76.8 L193.7 76.8 L194.1 76.9 L194.6 77.0 L195.1 77.1 L195.5 77.2 L196.0 77.2 L196.4 77.3 L196.9 77.4 L197.4 77.5 L197.9 77.5 L198.4 77.6 L198.9 77.7 L199.3 77.8 L199.8 77.9 L200.4 78.0 L200.9 78.1 L201.4 78.2 L201.9 78.3 L202.4 78.4 L202.9 78.5 L203.5 78.6 L204.0 78.7 L204.5 78.8 L205.1 78.9 L205.6 79.0 L206.2 79.1 L206.7 79.3 L207.3 79.4 L207.9 79.5 L208.4 79.7 L209.0 79.8 L209.6 80.0 L210.2 80.1 L210.7 80.3 L211.3 80.5 L211.9 80.6 L212.5 80.8 L213.1 81.0 L213.7 81.2 L214.3 81.4 L215.0 81.6 L215.6 81.8 L216.2 82.0 L216.8 82.2 L217.4 82.4 L218.1 82.7 L218.7 82.9 L219.3 83.1 L220.0 83.4 L220.6 83.6 L221.3 83.9 L221.9 84.2 L222.6 84.5 L223.3 84.8 L223.9 85.1 L224.6 85.4 L225.3 85.8 L225.9 86.1 L226.6 86.5 L227.3 86.9 L228.0 87.3 L228.7 87.6 L229.4 88.0 L230.1 88.5 L230.8 88.9 L231.5 89.3 L232.2 89.7 L232.9 90.1 L233.6 90.6 L234.3 91.0 L235.0 91.5 L235.8 91.9 L236.5 92.4 L237.2 92.8 L238.0 93.3 L238.7 93.7 L239.5 94.2 L240.2 94.6 L240.9 95.0 L241.7 95.5 L242.5 95.9 L243.2 96.4 L244.0 96.8 L244.7 97.3 L245.5 97.8 L246.3 98.2 L247.1 98.7 L247.8 99.2 L248.6 99.6 L249.4 100.1 L250.2 100.6 L251.0 101.1 L251.8 101.6 L252.6 102.1 L253.4 102.6 L254.2 103.1 L255.0 103.6 L255.8 104.1 L256.6 104.6 L257.5 105.2 L258.3 105.7 L259.1 106.2 L259.9 106.8 L260.8 107.3 L261.6 107.9 L262.4 108.4" fill="none" stroke="#000" stroke-width="1.05" stroke-linejoin="round"/>
<path d="M178.5 24.8 L178.5 25.2 L178.6 25.9 L178.8 26.8 L178.9 27.9 L179.0 29.1 L179.2 30.4 L179.4 31.8 L179.6 33.4 L179.8 35.1 L180.1 36.9 L180.3 38.7 L180.5 40.6 L180.8 42.5 L181.1 44.3 L181.4 46.0 L181.6 47.4 L181.9 48.9 L182.2 50.3 L182.6 51.7 L182.9 53.0 L183.2 54.3 L183.6 55.6 L183.9 56.9 L184.3 58.1 L184.6 59.2 L185.0 60.2 L185.4 61.2 L185.8 62.1 L186.2 62.9 L186.6 63.7 L187.0 64.5 L187.4 65.3 L187.8 66.0 L188.2 66.7 L188.7 67.4 L189.1 68.0 L189.5 68.6 L190.0 69.2 L190.4 69.8 L190.9 70.4 L191.4 70.9 L191.9 71.4 L192.3 71.9 L192.8 72.4 L193.3 72.8 L193.8 73.3 L194.3 73.8 L194.8 74.3 L195.3 74.7 L195.8 75.2 L196.4 75.6 L196.9 76.0 L197.4 76.3 L198.0 76.6 L198.5 76.8 L199.1 77.0 L199.6 77.0 L200.2 77.1 L200.7 77.2 L201.3 77.3 L201.9 77.3 L202.5 77.4 L203.0 77.5 L203.6 77.5 L204.2 77.6 L204.8 77.6 L205.4 77.7 L206.0 77.7 L206.6 77.7 L207.2 77.8 L207.9 77.8 L208.5 77.8 L209.1 77.9 L209.7 77.9 L210.4 77.9 L211.0 78.0 L211.7 78.0 L212.3 78.0 L213.0 78.0 L213.6 78.1 L214.3 78.1 L214.9 78.1 L215.6 78.1 L216.3 78.2 L217.0 78.2 L217.6 78.2 L218.3 78.2 L219.0 78.2 L219.7 78.2 L220.4 78.2 L221.1 78.3 L221.8 78.3 L222.5 78.3 L223.2 78.3 L223.9 78.3 L224.7 78.3 L225.4 78.4 L226.1 78.4 L226.8 78.4 L227.6 78.4 L228.3 78.4 L229.0 78.5 L229.8 78.5 L230.5 78.5 L231.3 78.6 L232.0 78.6 L232.8 78.6 L233.6 78.7 L234.3 78.8 L235.1 78.9 L235.9 79.1 L236.7 79.2 L237.4 79.4 L238.2 79.5 L239.0 79.7 L239.8 79.9 L240.6 80.2 L241.4 80.4 L242.2 80.6 L243.0 80.8 L243.8 81.0 L244.6 81.3 L245.4 81.5 L246.2 81.7 L247.1 81.9 L247.9 82.2 L248.7 82.4 L249.6 82.7 L250.4 82.9 L251.2 83.2 L252.1 83.5 L252.9 83.8 L253.8 84.1 L254.6 84.4 L255.5 84.7 L256.3 85.0 L257.2 85.3 L258.0 85.6 L258.9 85.9 L259.8 86.3 L260.6 86.6 L261.5 86.9 L262.4 87.3 L263.3 87.6 L264.2 88.0 L265.1 88.3 L265.9 88.7 L266.8 89.0 L267.7 89.4 L268.6 89.7 L269.5 90.1 L270.4 90.4 L271.4 90.8 L272.3 91.1 L273.2 91.5 L274.1 91.8 L275.0 92.2 L275.9 92.5 L276.9 92.8 L277.8 93.2 L278.7 93.5 L279.7 93.9 L280.6 94.2 L281.5 94.6 L282.5 94.9 L283.4 95.3 L284.4 95.7 L285.3 96.0 L286.3 96.4 L287.3 96.7 L288.2 97.1 L289.2 97.5 L290.1 97.8 L291.1 98.2 L292.1 98.6 L293.1 99.0 L294.0 99.3 L295.0 99.7 L296.0 100.1 L297.0 100.5 L298.0 100.8 L299.0 101.2 L300.0 101.6 L301.0 102.0 L302.0 102.4 L303.0 102.8 L304.0 103.2 L305.0 103.6 L306.0 103.9 L307.0 104.3 L308.0 104.7 L309.0 105.1 L310.1 105.5 L311.1 105.9 L312.1 106.3 L313.1 106.8 L314.2 107.2 L315.2 107.6 L316.2 108.0 L317.3 108.4" fill="none" stroke="#000" stroke-width="1.05" stroke-linejoin="round"/>
<path d="M178.5 76.6 L178.8 75.9 L179.1 75.3 L179.3 74.6 L179.6 74.0 L179.9 73.4 L180.2 72.8 L180.4 72.2 L180.7 71.6 L181.0 71.1 L181.3 70.5 L181.5 70.0 L181.8 69.5 L182.1 69.0 L182.4 68.5 L182.6 68.0 L182.9 67.6 L183.2 67.2 L183.5 66.8 L183.7 66.4 L184.0 66.0 L184.3 65.6 L184.6 65.2 L184.8 64.8 L185.1 64.5 L185.4 64.1 L185.7 63.8 L185.9 63.4 L186.2 63.1 L186.5 62.8 L186.8 62.5 L187.0 62.2 L187.3 61.9 L187.6 61.6 L187.9 61.4 L188.1 61.1 L188.4 60.9 L188.7 60.6 L189.0 60.4 L189.2 60.2 L189.5 60.0 L189.8 59.7 L190.1 59.5 L190.3 59.3 L190.6 59.1 L190.9 58.9 L191.2 58.7 L191.4 58.5 L191.7 58.3 L192.0 58.1 L192.3 57.9 L192.5 57.7 L192.8 57.6 L193.1 57.4 L193.4 57.2 L193.7 57.1 L193.9 56.9 L194.2 56.7 L194.5 56.6 L194.8 56.4 L195.0 56.3 L195.3 56.1 L195.6 56.0 L195.9 55.9 L196.1 55.7 L196.4 55.6 L196.7 55.5 L197.0 55.4 L197.2 55.3 L197.5 55.2 L197.8 55.1 L198.1 55.0 L198.3 54.9 L198.6 54.8 L198.9 54.7 L199.2 54.6 L199.4 54.5 L199.7 54.5 L200.0 54.4 L200.3 54.3 L200.5 54.2 L200.8 54.2 L201.1 54.1 L201.4 54.0 L201.6 54.0 L201.9 53.9 L202.2 53.9 L202.5 53.8 L202.7 53.7 L203.0 53.7 L203.3 53.6 L203.6 53.5 L203.8 53.5 L204.1 53.4 L204.4 53.3 L204.7 53.3 L204.9 53.2 L205.2 53.1 L205.5 53.0 L205.8 52.9 L206.0 52.9 L206.3 52.8 L206.6 52.7 L206.9 52.6 L207.1 52.5 L207.4 52.4 L207.7 52.2 L208.0 52.1 L208.2 52.0 L208.5 51.9 L208.8 51.7 L209.1 51.6 L209.4 51.4 L209.6 51.3 L209.9 51.1 L210.2 50.9 L210.5 50.7 L210.7 50.5 L211.0 50.4 L211.3 50.1 L211.6 49.9 L211.8 49.7 L212.1 49.5 L212.4 49.3 L212.7 49.0 L212.9 48.8 L213.2 48.5 L213.5 48.2 L213.8 48.0 L214.0 47.7 L214.3 47.4 L214.6 47.1 L214.9 46.8 L215.1 46.5 L215.4 46.2 L215.7 45.8 L216.0 45.5 L216.2 45.1 L216.5 44.8 L216.8 44.4 L217.1 44.0 L217.3 43.6 L217.6 43.2 L217.9 42.7 L218.2 42.3 L218.4 41.7 L218.7 41.2 L219.0 40.6 L219.3 40.0 L219.5 39.3 L219.8 38.6 L220.1 37.8 L220.4 37.0 L220.6 36.2 L220.9 35.3 L221.2 34.3 L221.5 33.3 L221.7 32.1 L222.0 30.5 L222.3 28.7 L222.6 26.8" fill="none" stroke="#000" stroke-width="1.05" stroke-linejoin="round"/>
<path d="M178.5 84.3 L178.8 83.2 L179.2 82.2 L179.5 81.2 L179.8 80.3 L180.2 79.5 L180.5 78.7 L180.8 78.0 L181.2 77.3 L181.5 76.6 L181.9 76.0 L182.2 75.4 L182.5 74.8 L182.9 74.3 L183.2 73.8 L183.5 73.3 L183.9 72.8 L184.2 72.3 L184.5 71.9 L184.9 71.4 L185.2 71.0 L185.5 70.6 L185.9 70.2 L186.2 69.8 L186.5 69.4 L186.9 69.0 L187.2 68.6 L187.5 68.3 L187.9 68.0 L188.2 67.6 L188.6 67.3 L188.9 67.1 L189.2 66.8 L189.6 66.5 L189.9 66.3 L190.2 66.1 L190.6 65.8 L190.9 65.6 L191.2 65.4 L191.6 65.2 L191.9 65.0 L192.2 64.8 L192.6 64.6 L192.9 64.4 L193.2 64.2 L193.6 64.0 L193.9 63.9 L194.2 63.7 L194.6 63.5 L194.9 63.3 L195.3 63.2 L195.6 63.0 L195.9 62.9 L196.3 62.7 L196.6 62.6 L196.9 62.4 L197.3 62.3 L197.6 62.2 L197.9 62.0 L198.3 61.9 L198.6 61.8 L198.9 61.7 L199.3 61.6 L199.6 61.5 L199.9 61.4 L200.3 61.3 L200.6 61.2 L200.9 61.1 L201.3 61.0 L201.6 60.9 L202.0 60.8 L202.3 60.7 L202.6 60.6 L203.0 60.6 L203.3 60.5 L203.6 60.4 L204.0 60.4 L204.3 60.3 L204.6 60.2 L205.0 60.2 L205.3 60.1 L205.6 60.0 L206.0 60.0 L206.3 59.9 L206.6 59.9 L207.0 59.8 L207.3 59.8 L207.6 59.7 L208.0 59.6 L208.3 59.6 L208.7 59.5 L209.0 59.5 L209.3 59.4 L209.7 59.3 L210.0 59.3 L210.3 59.2 L210.7 59.1 L211.0 59.1 L211.3 59.0 L211.7 58.9 L212.0 58.9 L212.3 58.8 L212.7 58.7 L213.0 58.6 L213.3 58.5 L213.7 58.4 L214.0 58.3 L214.3 58.2 L214.7 58.1 L215.0 58.0 L215.4 57.9 L215.7 57.8 L216.0 57.6 L216.4 57.5 L216.7 57.4 L217.0 57.2 L217.4 57.1 L217.7 56.9 L218.0 56.7 L218.4 56.6 L218.7 56.4 L219.0 56.2 L219.4 56.0 L219.7 55.8 L220.0 55.6 L220.4 55.4 L220.7 55.1 L221.0 54.9 L221.4 54.6 L221.7 54.3 L222.1 54.0 L222.4 53.7 L222.7 53.4 L223.1 53.0 L223.4 52.7 L223.7 52.3 L224.1 51.9 L224.4 51.5 L224.7 51.1 L225.1 50.7 L225.4 50.3 L225.7 49.8 L226.1 49.3 L226.4 48.7 L226.7 48.0 L227.1 47.2 L227.4 46.4 L227.7 45.5 L228.1 44.5 L228.4 43.5 L228.8 42.5 L229.1 41.4 L229.4 40.2 L229.8 39.0 L230.1 37.8 L230.4 36.4 L230.8 34.9 L231.1 33.2 L231.4 31.2 L231.8 29.0 L232.1 26.8" fill="none" stroke="#000" stroke-width="1.05" stroke-linejoin="round"/>
<path d="M178.5 89.4 L178.9 88.1 L179.3 86.8 L179.7 85.6 L180.0 84.5 L180.4 83.5 L180.8 82.7 L181.2 81.8 L181.6 81.1 L182.0 80.4 L182.4 79.7 L182.8 79.0 L183.1 78.4 L183.5 77.8 L183.9 77.3 L184.3 76.7 L184.7 76.2 L185.1 75.7 L185.5 75.3 L185.8 74.8 L186.2 74.3 L186.6 73.9 L187.0 73.5 L187.4 73.1 L187.8 72.7 L188.2 72.3 L188.6 71.9 L188.9 71.5 L189.3 71.2 L189.7 70.9 L190.1 70.6 L190.5 70.3 L190.9 70.1 L191.3 69.8 L191.6 69.6 L192.0 69.4 L192.4 69.1 L192.8 68.9 L193.2 68.7 L193.6 68.5 L194.0 68.3 L194.4 68.2 L194.7 68.0 L195.1 67.8 L195.5 67.6 L195.9 67.5 L196.3 67.3 L196.7 67.1 L197.1 67.0 L197.4 66.8 L197.8 66.7 L198.2 66.6 L198.6 66.4 L199.0 66.3 L199.4 66.2 L199.8 66.0 L200.2 65.9 L200.5 65.8 L200.9 65.7 L201.3 65.6 L201.7 65.5 L202.1 65.4 L202.5 65.3 L202.9 65.2 L203.2 65.1 L203.6 65.0 L204.0 64.9 L204.4 64.8 L204.8 64.8 L205.2 64.7 L205.6 64.6 L206.0 64.6 L206.3 64.5 L206.7 64.4 L207.1 64.4 L207.5 64.3 L207.9 64.2 L208.3 64.2 L208.7 64.1 L209.0 64.1 L209.4 64.0 L209.8 64.0 L210.2 63.9 L210.6 63.9 L211.0 63.8 L211.4 63.8 L211.8 63.7 L212.1 63.6 L212.5 63.6 L212.9 63.5 L213.3 63.5 L213.7 63.4 L214.1 63.3 L214.5 63.3 L214.8 63.2 L215.2 63.2 L215.6 63.1 L216.0 63.0 L216.4 63.0 L216.8 62.9 L217.2 62.8 L217.6 62.8 L217.9 62.7 L218.3 62.6 L218.7 62.6 L219.1 62.5 L219.5 62.4 L219.9 62.3 L220.3 62.2 L220.6 62.1 L221.0 62.0 L221.4 61.9 L221.8 61.8 L222.2 61.7 L222.6 61.6 L223.0 61.4 L223.4 61.3 L223.7 61.1 L224.1 61.0 L224.5 60.9 L224.9 60.7 L225.3 60.5 L225.7 60.4 L226.1 60.2 L226.4 60.0 L226.8 59.7 L227.2 59.5 L227.6 59.3 L228.0 59.0 L228.4 58.7 L228.8 58.4 L229.2 58.1 L229.5 57.7 L229.9 57.4 L230.3 57.0 L230.7 56.6 L231.1 56.2 L231.5 55.8 L231.9 55.4 L232.2 54.9 L232.6 54.4 L233.0 53.9 L233.4 53.3 L233.8 52.6 L234.2 51.8 L234.6 50.9 L235.0 49.9 L235.3 48.8 L235.7 47.6 L236.1 46.4 L236.5 45.1 L236.9 43.7 L237.3 42.4 L237.7 41.0 L238.0 39.4 L238.4 37.7 L238.8 35.9 L239.2 33.9 L239.6 31.7 L240.0 29.3 L240.4 26.8" fill="none" stroke="#000" stroke-width="1.05" stroke-linejoin="round"/>
<path d="M178.5 92.5 L178.9 91.0 L179.3 89.6 L179.8 88.2 L180.2 87.0 L180.6 85.9 L181.0 85.0 L181.4 84.2 L181.8 83.4 L182.3 82.6 L182.7 81.9 L183.1 81.2 L183.5 80.6 L183.9 79.9 L184.4 79.4 L184.8 78.8 L185.2 78.3 L185.6 77.8 L186.0 77.3 L186.4 76.8 L186.9 76.4 L187.3 75.9 L187.7 75.5 L188.1 75.0 L188.5 74.6 L188.9 74.2 L189.4 73.8 L189.8 73.5 L190.2 73.1 L190.6 72.8 L191.0 72.5 L191.5 72.3 L191.9 72.0 L192.3 71.8 L192.7 71.6 L193.1 71.3 L193.5 71.1 L194.0 70.9 L194.4 70.7 L194.8 70.5 L195.2 70.4 L195.6 70.2 L196.1 70.0 L196.5 69.8 L196.9 69.7 L197.3 69.5 L197.7 69.4 L198.1 69.2 L198.6 69.1 L199.0 68.9 L199.4 68.8 L199.8 68.7 L200.2 68.5 L200.7 68.4 L201.1 68.3 L201.5 68.2 L201.9 68.1 L202.3 68.0 L202.7 67.9 L203.2 67.8 L203.6 67.7 L204.0 67.6 L204.4 67.5 L204.8 67.4 L205.3 67.3 L205.7 67.3 L206.1 67.2 L206.5 67.1 L206.9 67.0 L207.3 67.0 L207.8 66.9 L208.2 66.9 L208.6 66.8 L209.0 66.7 L209.4 66.7 L209.8 66.6 L210.3 66.6 L210.7 66.5 L211.1 66.5 L211.5 66.4 L211.9 66.4 L212.4 66.3 L212.8 66.3 L213.2 66.2 L213.6 66.2 L214.0 66.1 L214.4 66.1 L214.9 66.0 L215.3 65.9 L215.7 65.9 L216.1 65.8 L216.5 65.8 L217.0 65.7 L217.4 65.7 L217.8 65.6 L218.2 65.5 L218.6 65.5 L219.0 65.4 L219.5 65.4 L219.9 65.3 L220.3 65.2 L220.7 65.2 L221.1 65.1 L221.6 65.0 L222.0 65.0 L222.4 64.9 L222.8 64.8 L223.2 64.7 L223.6 64.7 L224.1 64.6 L224.5 64.5 L224.9 64.4 L225.3 64.3 L225.7 64.2 L226.2 64.1 L226.6 63.9 L227.0 63.8 L227.4 63.7 L227.8 63.6 L228.2 63.4 L228.7 63.3 L229.1 63.1 L229.5 63.0 L229.9 62.8 L230.3 62.6 L230.8 62.4 L231.2 62.2 L231.6 61.9 L232.0 61.6 L232.4 61.3 L232.8 61.0 L233.3 60.7 L233.7 60.4 L234.1 60.0 L234.5 59.6 L234.9 59.2 L235.3 58.8 L235.8 58.4 L236.2 57.9 L236.6 57.4 L237.0 56.9 L237.4 56.4 L237.9 55.8 L238.3 55.0 L238.7 54.1 L239.1 53.1 L239.5 51.9 L239.9 50.7 L240.4 49.4 L240.8 48.1 L241.2 46.6 L241.6 45.2 L242.0 43.7 L242.5 42.1 L242.9 40.4 L243.3 38.5 L243.7 36.6 L244.1 34.4 L244.5 32.0 L245.0 29.4 L245.4 26.8" fill="none" stroke="#000" stroke-width="1.05" stroke-linejoin="round"/>
<path d="M178.5 95.1 L179.0 93.5 L179.4 91.9 L179.9 90.4 L180.3 89.1 L180.8 88.0 L181.2 87.0 L181.7 86.1 L182.1 85.3 L182.6 84.5 L183.0 83.7 L183.5 83.0 L183.9 82.3 L184.4 81.7 L184.8 81.1 L185.3 80.6 L185.7 80.0 L186.2 79.5 L186.6 79.0 L187.1 78.5 L187.5 78.0 L188.0 77.6 L188.4 77.1 L188.9 76.7 L189.3 76.3 L189.8 75.9 L190.2 75.5 L190.7 75.1 L191.1 74.8 L191.6 74.5 L192.0 74.2 L192.5 73.9 L192.9 73.6 L193.4 73.4 L193.8 73.2 L194.3 73.0 L194.8 72.8 L195.2 72.6 L195.7 72.4 L196.1 72.2 L196.6 72.0 L197.0 71.9 L197.5 71.7 L197.9 71.5 L198.4 71.4 L198.8 71.2 L199.3 71.1 L199.7 70.9 L200.2 70.8 L200.6 70.7 L201.1 70.6 L201.5 70.4 L202.0 70.3 L202.4 70.2 L202.9 70.1 L203.3 70.0 L203.8 69.9 L204.2 69.8 L204.7 69.7 L205.1 69.6 L205.6 69.5 L206.0 69.4 L206.5 69.4 L206.9 69.3 L207.4 69.2 L207.8 69.1 L208.3 69.1 L208.7 69.0 L209.2 68.9 L209.6 68.9 L210.1 68.8 L210.6 68.8 L211.0 68.7 L211.5 68.7 L211.9 68.6 L212.4 68.6 L212.8 68.5 L213.3 68.5 L213.7 68.4 L214.2 68.4 L214.6 68.3 L215.1 68.3 L215.5 68.2 L216.0 68.2 L216.4 68.1 L216.9 68.1 L217.3 68.0 L217.8 68.0 L218.2 67.9 L218.7 67.9 L219.1 67.8 L219.6 67.8 L220.0 67.7 L220.5 67.6 L220.9 67.6 L221.4 67.5 L221.8 67.5 L222.3 67.4 L222.7 67.4 L223.2 67.3 L223.6 67.2 L224.1 67.2 L224.5 67.1 L225.0 67.1 L225.4 67.0 L225.9 66.9 L226.4 66.9 L226.8 66.8 L227.3 66.7 L227.7 66.6 L228.2 66.5 L228.6 66.4 L229.1 66.4 L229.5 66.3 L230.0 66.2 L230.4 66.0 L230.9 65.9 L231.3 65.8 L231.8 65.7 L232.2 65.6 L232.7 65.4 L233.1 65.3 L233.6 65.1 L234.0 65.0 L234.5 64.8 L234.9 64.6 L235.4 64.4 L235.8 64.1 L236.3 63.8 L236.7 63.6 L237.2 63.2 L237.6 62.9 L238.1 62.6 L238.5 62.2 L239.0 61.8 L239.4 61.4 L239.9 61.0 L240.3 60.5 L240.8 60.0 L241.3 59.5 L241.7 59.0 L242.2 58.4 L242.6 57.8 L243.1 56.9 L243.5 56.0 L244.0 54.9 L244.4 53.7 L244.9 52.4 L245.3 51.0 L245.8 49.5 L246.2 47.9 L246.7 46.4 L247.1 44.7 L247.6 43.1 L248.0 41.2 L248.5 39.2 L248.9 37.1 L249.4 34.7 L249.8 32.2 L250.3 29.5 L250.7 26.8" fill="none" stroke="#000" stroke-width="1.05" stroke-linejoin="round"/>
<path d="M178.5 97.1 L179.0 95.4 L179.5 93.8 L179.9 92.2 L180.4 90.8 L180.9 89.6 L181.4 88.6 L181.8 87.6 L182.3 86.8 L182.8 85.9 L183.3 85.2 L183.7 84.5 L184.2 83.8 L184.7 83.1 L185.2 82.5 L185.6 82.0 L186.1 81.4 L186.6 80.9 L187.1 80.4 L187.6 79.9 L188.0 79.4 L188.5 78.9 L189.0 78.4 L189.5 78.0 L189.9 77.6 L190.4 77.2 L190.9 76.8 L191.4 76.4 L191.8 76.1 L192.3 75.7 L192.8 75.5 L193.3 75.2 L193.7 74.9 L194.2 74.7 L194.7 74.5 L195.2 74.3 L195.7 74.1 L196.1 73.9 L196.6 73.7 L197.1 73.6 L197.6 73.4 L198.0 73.2 L198.5 73.1 L199.0 72.9 L199.5 72.7 L199.9 72.6 L200.4 72.5 L200.9 72.3 L201.4 72.2 L201.8 72.1 L202.3 72.0 L202.8 71.8 L203.3 71.7 L203.8 71.6 L204.2 71.5 L204.7 71.4 L205.2 71.3 L205.7 71.2 L206.1 71.2 L206.6 71.1 L207.1 71.0 L207.6 70.9 L208.0 70.9 L208.5 70.8 L209.0 70.7 L209.5 70.7 L210.0 70.6 L210.4 70.5 L210.9 70.5 L211.4 70.4 L211.9 70.4 L212.3 70.3 L212.8 70.3 L213.3 70.2 L213.8 70.2 L214.2 70.1 L214.7 70.1 L215.2 70.0 L215.7 70.0 L216.1 69.9 L216.6 69.9 L217.1 69.8 L217.6 69.8 L218.1 69.7 L218.5 69.7 L219.0 69.6 L219.5 69.6 L220.0 69.5 L220.4 69.5 L220.9 69.4 L221.4 69.4 L221.9 69.3 L222.3 69.3 L222.8 69.2 L223.3 69.2 L223.8 69.1 L224.2 69.1 L224.7 69.0 L225.2 69.0 L225.7 68.9 L226.2 68.8 L226.6 68.8 L227.1 68.7 L227.6 68.7 L228.1 68.6 L228.5 68.5 L229.0 68.5 L229.5 68.4 L230.0 68.3 L230.4 68.3 L230.9 68.2 L231.4 68.1 L231.9 68.0 L232.3 67.9 L232.8 67.8 L233.3 67.7 L233.8 67.6 L234.3 67.5 L234.7 67.4 L235.2 67.3 L235.7 67.1 L236.2 67.0 L236.6 66.9 L237.1 66.7 L237.6 66.5 L238.1 66.3 L238.5 66.1 L239.0 65.9 L239.5 65.6 L240.0 65.3 L240.4 65.0 L240.9 64.7 L241.4 64.3 L241.9 63.9 L242.4 63.5 L242.8 63.1 L243.3 62.7 L243.8 62.2 L244.3 61.7 L244.7 61.2 L245.2 60.7 L245.7 60.1 L246.2 59.4 L246.6 58.5 L247.1 57.5 L247.6 56.3 L248.1 55.1 L248.5 53.7 L249.0 52.2 L249.5 50.6 L250.0 49.0 L250.5 47.3 L250.9 45.6 L251.4 43.8 L251.9 41.9 L252.4 39.8 L252.8 37.5 L253.3 35.0 L253.8 32.4 L254.3 29.6 L254.7 26.8" fill="none" stroke="#000" stroke-width="1.05" stroke-linejoin="round"/>
<path d="M178.5 98.9 L179.0 97.1 L179.5 95.4 L180.0 93.7 L180.5 92.3 L181.0 91.0 L181.5 90.0 L182.0 89.0 L182.5 88.1 L183.0 87.2 L183.5 86.5 L184.0 85.7 L184.5 85.0 L185.0 84.4 L185.5 83.8 L186.0 83.2 L186.5 82.6 L187.0 82.1 L187.5 81.6 L188.0 81.1 L188.5 80.6 L189.0 80.1 L189.5 79.6 L190.0 79.2 L190.5 78.7 L191.0 78.3 L191.5 77.9 L192.0 77.5 L192.5 77.2 L193.0 76.9 L193.5 76.6 L194.0 76.3 L194.5 76.1 L195.0 75.9 L195.5 75.7 L196.0 75.5 L196.5 75.3 L197.0 75.1 L197.5 74.9 L198.0 74.7 L198.5 74.6 L199.0 74.4 L199.5 74.2 L200.0 74.1 L200.5 73.9 L201.0 73.8 L201.5 73.7 L202.0 73.5 L202.5 73.4 L203.0 73.3 L203.5 73.2 L204.0 73.1 L204.5 73.0 L205.0 72.9 L205.5 72.8 L206.0 72.7 L206.5 72.6 L207.0 72.5 L207.5 72.4 L208.0 72.4 L208.5 72.3 L209.0 72.2 L209.5 72.2 L210.0 72.1 L210.5 72.0 L211.0 72.0 L211.5 71.9 L212.0 71.9 L212.5 71.8 L213.0 71.7 L213.5 71.7 L214.0 71.6 L214.5 71.6 L215.0 71.6 L215.5 71.5 L216.0 71.5 L216.5 71.4 L217.0 71.4 L217.5 71.3 L218.0 71.3 L218.5 71.2 L219.0 71.2 L219.5 71.2 L220.0 71.1 L220.5 71.1 L221.0 71.0 L221.5 71.0 L222.0 70.9 L222.5 70.9 L223.0 70.8 L223.5 70.8 L224.0 70.7 L224.5 70.7 L225.0 70.6 L225.5 70.6 L226.0 70.5 L226.5 70.4 L227.0 70.4 L227.5 70.3 L228.0 70.3 L228.5 70.2 L229.0 70.2 L229.5 70.1 L229.9 70.1 L230.4 70.0 L230.9 70.0 L231.4 69.9 L231.9 69.8 L232.4 69.8 L232.9 69.7 L233.4 69.6 L233.9 69.5 L234.4 69.5 L234.9 69.4 L235.4 69.3 L235.9 69.2 L236.4 69.1 L236.9 69.0 L237.4 68.9 L237.9 68.8 L238.4 68.7 L238.9 68.5 L239.4 68.4 L239.9 68.2 L240.4 68.1 L240.9 67.9 L241.4 67.7 L241.9 67.4 L242.4 67.1 L242.9 66.9 L243.4 66.5 L243.9 66.2 L244.4 65.9 L244.9 65.5 L245.4 65.1 L245.9 64.6 L246.4 64.2 L246.9 63.7 L247.4 63.2 L247.9 62.7 L248.4 62.1 L248.9 61.5 L249.4 60.8 L249.9 59.9 L250.4 58.8 L250.9 57.6 L251.4 56.3 L251.9 54.8 L252.4 53.3 L252.9 51.6 L253.4 49.9 L253.9 48.1 L254.4 46.3 L254.9 44.5 L255.4 42.5 L255.9 40.2 L256.4 37.9 L256.9 35.3 L257.4 32.6 L257.9 29.7 L258.4 26.8" fill="none" stroke="#000" stroke-width="1.05" stroke-linejoin="round"/>
<path d="M178.5 102.3 L179.1 100.3 L179.6 98.4 L180.2 96.6 L180.8 95.0 L181.4 93.6 L181.9 92.5 L182.5 91.5 L183.1 90.6 L183.7 89.7 L184.2 88.8 L184.8 88.1 L185.4 87.3 L185.9 86.7 L186.5 86.0 L187.1 85.4 L187.7 84.9 L188.2 84.3 L188.8 83.8 L189.4 83.2 L190.0 82.7 L190.5 82.2 L191.1 81.8 L191.7 81.3 L192.2 80.9 L192.8 80.4 L193.4 80.0 L194.0 79.7 L194.5 79.3 L195.1 79.0 L195.7 78.7 L196.3 78.4 L196.8 78.2 L197.4 78.0 L198.0 77.8 L198.5 77.6 L199.1 77.4 L199.7 77.2 L200.3 77.1 L200.8 76.9 L201.4 76.7 L202.0 76.6 L202.6 76.4 L203.1 76.3 L203.7 76.2 L204.3 76.0 L204.8 75.9 L205.4 75.8 L206.0 75.7 L206.6 75.6 L207.1 75.5 L207.7 75.4 L208.3 75.3 L208.9 75.2 L209.4 75.1 L210.0 75.0 L210.6 74.9 L211.1 74.9 L211.7 74.8 L212.3 74.7 L212.9 74.7 L213.4 74.6 L214.0 74.6 L214.6 74.5 L215.2 74.5 L215.7 74.4 L216.3 74.4 L216.9 74.3 L217.4 74.3 L218.0 74.2 L218.6 74.2 L219.2 74.1 L219.7 74.1 L220.3 74.1 L220.9 74.0 L221.4 74.0 L222.0 73.9 L222.6 73.9 L223.2 73.9 L223.7 73.8 L224.3 73.8 L224.9 73.7 L225.5 73.7 L226.0 73.7 L226.6 73.6 L227.2 73.6 L227.7 73.5 L228.3 73.5 L228.9 73.4 L229.5 73.4 L230.0 73.3 L230.6 73.3 L231.2 73.2 L231.8 73.2 L232.3 73.1 L232.9 73.1 L233.5 73.0 L234.0 73.0 L234.6 72.9 L235.2 72.9 L235.8 72.8 L236.3 72.8 L236.9 72.7 L237.5 72.7 L238.1 72.6 L238.6 72.6 L239.2 72.5 L239.8 72.5 L240.3 72.4 L240.9 72.4 L241.5 72.3 L242.1 72.2 L242.6 72.2 L243.2 72.1 L243.8 72.0 L244.4 71.9 L244.9 71.8 L245.5 71.8 L246.1 71.7 L246.6 71.6 L247.2 71.5 L247.8 71.3 L248.4 71.2 L248.9 71.1 L249.5 70.9 L250.1 70.7 L250.7 70.5 L251.2 70.3 L251.8 70.0 L252.4 69.7 L252.9 69.4 L253.5 69.1 L254.1 68.7 L254.7 68.3 L255.2 67.9 L255.8 67.4 L256.4 67.0 L257.0 66.5 L257.5 65.9 L258.1 65.4 L258.7 64.8 L259.2 64.2 L259.8 63.4 L260.4 62.5 L261.0 61.3 L261.5 60.0 L262.1 58.5 L262.7 56.9 L263.3 55.2 L263.8 53.4 L264.4 51.6 L265.0 49.7 L265.5 47.7 L266.1 45.7 L266.7 43.5 L267.3 41.1 L267.8 38.5 L268.4 35.8 L269.0 32.9 L269.6 29.9 L270.1 26.8" fill="none" stroke="#000" stroke-width="1.05" stroke-linejoin="round"/>
<rect x="333" y="5.6" width="27.6" height="20.8" fill="#fe0000"/>
<text x="346.8" y="22.0" font-size="20.5" text-anchor="middle" fill="#fff" font-weight="normal">(c)</text>
<rect x="376.8" y="6.1" width="145.0" height="112.4" fill="#fff" stroke="#000" stroke-width="1.1"/>
<line x1="376.8" y1="118.5" x2="376.8" y2="121.1" stroke="#000" stroke-width="1"/>
<text x="376.8" y="127.9" font-size="7.0" font-weight="bold" text-anchor="middle" fill="#000" >0</text>
<line x1="387.9" y1="118.5" x2="387.9" y2="120.0" stroke="#000" stroke-width="0.8"/>
<line x1="398.9" y1="118.5" x2="398.9" y2="121.1" stroke="#000" stroke-width="1"/>
<text x="398.9" y="127.9" font-size="7.0" font-weight="bold" text-anchor="middle" fill="#000" >50</text>
<line x1="409.9" y1="118.5" x2="409.9" y2="120.0" stroke="#000" stroke-width="0.8"/>
<line x1="421.0" y1="118.5" x2="421.0" y2="121.1" stroke="#000" stroke-width="1"/>
<text x="421.0" y="127.9" font-size="7.0" font-weight="bold" text-anchor="middle" fill="#000" >100</text>
<line x1="432.1" y1="118.5" x2="432.1" y2="120.0" stroke="#000" stroke-width="0.8"/>
<line x1="443.1" y1="118.5" x2="443.1" y2="121.1" stroke="#000" stroke-width="1"/>
<text x="443.1" y="127.9" font-size="7.0" font-weight="bold" text-anchor="middle" fill="#000" >150</text>
<line x1="454.2" y1="118.5" x2="454.2" y2="120.0" stroke="#000" stroke-width="0.8"/>
<line x1="465.2" y1="118.5" x2="465.2" y2="121.1" stroke="#000" stroke-width="1"/>
<text x="465.2" y="127.9" font-size="7.0" font-weight="bold" text-anchor="middle" fill="#000" >200</text>
<line x1="476.2" y1="118.5" x2="476.2" y2="120.0" stroke="#000" stroke-width="0.8"/>
<line x1="487.3" y1="118.5" x2="487.3" y2="121.1" stroke="#000" stroke-width="1"/>
<text x="487.3" y="127.9" font-size="7.0" font-weight="bold" text-anchor="middle" fill="#000" >250</text>
<line x1="498.4" y1="118.5" x2="498.4" y2="120.0" stroke="#000" stroke-width="0.8"/>
<line x1="509.4" y1="118.5" x2="509.4" y2="121.1" stroke="#000" stroke-width="1"/>
<text x="509.4" y="127.9" font-size="7.0" font-weight="bold" text-anchor="middle" fill="#000" >300</text>
<line x1="520.5" y1="118.5" x2="520.5" y2="120.0" stroke="#000" stroke-width="0.8"/>
<line x1="374.2" y1="118.5" x2="376.8" y2="118.5" stroke="#000" stroke-width="1"/>
<text x="373.9" y="121.0" font-size="7.0" font-weight="bold" text-anchor="end" fill="#000" >0</text>
<line x1="521.8" y1="118.5" x2="524.4" y2="118.5" stroke="#000" stroke-width="1"/>
<text x="524.7" y="121.0" font-size="7.0" font-weight="bold" text-anchor="start" fill="#000" >0</text>
<line x1="375.3" y1="109.1" x2="376.8" y2="109.1" stroke="#000" stroke-width="0.8"/>
<line x1="521.8" y1="109.1" x2="523.3" y2="109.1" stroke="#000" stroke-width="0.8"/>
<line x1="374.2" y1="99.8" x2="376.8" y2="99.8" stroke="#000" stroke-width="1"/>
<text x="373.9" y="102.3" font-size="7.0" font-weight="bold" text-anchor="end" fill="#000" >50</text>
<line x1="521.8" y1="99.8" x2="524.4" y2="99.8" stroke="#000" stroke-width="1"/>
<text x="524.7" y="102.3" font-size="7.0" font-weight="bold" text-anchor="start" fill="#000" >20</text>
<line x1="375.3" y1="90.4" x2="376.8" y2="90.4" stroke="#000" stroke-width="0.8"/>
<line x1="521.8" y1="90.4" x2="523.3" y2="90.4" stroke="#000" stroke-width="0.8"/>
<line x1="374.2" y1="81.0" x2="376.8" y2="81.0" stroke="#000" stroke-width="1"/>
<text x="373.9" y="83.5" font-size="7.0" font-weight="bold" text-anchor="end" fill="#000" >100</text>
<line x1="521.8" y1="81.0" x2="524.4" y2="81.0" stroke="#000" stroke-width="1"/>
<text x="524.7" y="83.5" font-size="7.0" font-weight="bold" text-anchor="start" fill="#000" >40</text>
<line x1="375.3" y1="71.7" x2="376.8" y2="71.7" stroke="#000" stroke-width="0.8"/>
<line x1="521.8" y1="71.7" x2="523.3" y2="71.7" stroke="#000" stroke-width="0.8"/>
<line x1="374.2" y1="62.3" x2="376.8" y2="62.3" stroke="#000" stroke-width="1"/>
<text x="373.9" y="64.8" font-size="7.0" font-weight="bold" text-anchor="end" fill="#000" >150</text>
<line x1="521.8" y1="62.3" x2="524.4" y2="62.3" stroke="#000" stroke-width="1"/>
<text x="524.7" y="64.8" font-size="7.0" font-weight="bold" text-anchor="start" fill="#000" >60</text>
<line x1="375.3" y1="52.9" x2="376.8" y2="52.9" stroke="#000" stroke-width="0.8"/>
<line x1="521.8" y1="52.9" x2="523.3" y2="52.9" stroke="#000" stroke-width="0.8"/>
<line x1="374.2" y1="43.6" x2="376.8" y2="43.6" stroke="#000" stroke-width="1"/>
<text x="373.9" y="46.1" font-size="7.0" font-weight="bold" text-anchor="end" fill="#000" >200</text>
<line x1="521.8" y1="43.6" x2="524.4" y2="43.6" stroke="#000" stroke-width="1"/>
<text x="524.7" y="46.1" font-size="7.0" font-weight="bold" text-anchor="start" fill="#000" >80</text>
<line x1="375.3" y1="34.2" x2="376.8" y2="34.2" stroke="#000" stroke-width="0.8"/>
<line x1="521.8" y1="34.2" x2="523.3" y2="34.2" stroke="#000" stroke-width="0.8"/>
<line x1="374.2" y1="24.8" x2="376.8" y2="24.8" stroke="#000" stroke-width="1"/>
<text x="373.9" y="27.3" font-size="7.0" font-weight="bold" text-anchor="end" fill="#000" >250</text>
<line x1="521.8" y1="24.8" x2="524.4" y2="24.8" stroke="#000" stroke-width="1"/>
<text x="524.7" y="27.3" font-size="7.0" font-weight="bold" text-anchor="start" fill="#000" >100</text>
<line x1="375.3" y1="15.5" x2="376.8" y2="15.5" stroke="#000" stroke-width="0.8"/>
<line x1="521.8" y1="15.5" x2="523.3" y2="15.5" stroke="#000" stroke-width="0.8"/>
<line x1="374.2" y1="6.1" x2="376.8" y2="6.1" stroke="#000" stroke-width="1"/>
<text x="373.9" y="8.6" font-size="7.0" font-weight="bold" text-anchor="end" fill="#000" >300</text>
<line x1="521.8" y1="6.1" x2="524.4" y2="6.1" stroke="#000" stroke-width="1"/>
<text x="524.7" y="8.6" font-size="7.0" font-weight="bold" text-anchor="start" fill="#000" >120</text>
<text x="449.5" y="141.0" font-size="8.0" font-weight="bold" text-anchor="middle" fill="#000" word-spacing="4">Cycle Number</text>
<text transform="translate(358.9,66.2) rotate(-90)" font-size="8.3" word-spacing="3" font-weight="bold" text-anchor="middle">Capacity,  (mAh/g)</text>
<text transform="translate(542.4,61) rotate(-90)" font-size="8.0" font-weight="bold" text-anchor="middle">Coulombic efficiency, %</text>
<text x="502.5" y="70.1" font-size="7.2" font-weight="bold" text-anchor="middle" fill="#000" >2C</text>
<path d="M376.8 24.7 L377.2 24.6 L377.7 24.9 L378.1 24.5 L378.6 24.9 L379.0 24.7 L379.5 24.5 L379.9 24.8 L380.3 24.5 L380.8 24.8 L381.2 24.5 L381.7 24.5 L382.1 24.8 L382.5 25.1 L383.0 24.6 L383.4 24.6 L383.9 24.9 L384.3 25.1 L384.8 24.9 L385.2 24.8 L385.6 25.2 L386.1 24.5 L386.5 25.1 L387.0 24.7 L387.4 24.6 L387.9 24.6 L388.3 24.7 L388.7 25.1 L389.2 24.6 L389.6 24.9 L390.1 24.9 L390.5 24.7 L390.9 24.9 L391.4 24.5 L391.8 24.5 L392.3 24.6 L392.7 25.0 L393.2 24.8 L393.6 24.7 L394.0 24.9 L394.5 24.8 L394.9 24.7 L395.4 25.0 L395.8 25.0 L396.2 24.7 L396.7 24.9 L397.1 24.9 L397.6 25.1 L398.0 25.0 L398.5 24.7 L398.9 25.2 L399.3 24.6 L399.8 24.8 L400.2 25.0 L400.7 24.6 L401.1 24.8 L401.6 24.5 L402.0 25.0 L402.4 25.0 L402.9 24.9 L403.3 25.1 L403.8 24.7 L404.2 25.0 L404.6 24.9 L405.1 24.9 L405.5 24.8 L406.0 25.1 L406.4 25.1 L406.9 24.8 L407.3 24.9 L407.7 24.5 L408.2 25.0 L408.6 24.9 L409.1 25.2 L409.5 25.1 L409.9 24.7 L410.4 24.8 L410.8 25.0 L411.3 24.5 L411.7 24.8 L412.2 24.6 L412.6 24.6 L413.0 24.5 L413.5 25.0 L413.9 24.6 L414.4 24.7 L414.8 24.8 L415.3 25.1 L415.7 24.5 L416.1 24.8 L416.6 24.9 L417.0 25.1 L417.5 25.1 L417.9 25.1 L418.3 24.7 L418.8 24.8 L419.2 24.7 L419.7 25.1 L420.1 25.2 L420.6 24.6 L421.0 24.6 L421.4 24.6 L421.9 24.6 L422.3 24.8 L422.8 24.9 L423.2 24.7 L423.7 24.5 L424.1 24.8 L424.5 24.7 L425.0 24.9 L425.4 25.2 L425.9 25.0 L426.3 24.8 L426.7 24.9 L427.2 25.0 L427.6 24.5 L428.1 25.1 L428.5 25.0 L429.0 25.1 L429.4 25.0 L429.8 24.8 L430.3 24.8 L430.7 24.6 L431.2 24.9 L431.6 24.5 L432.1 24.5 L432.5 24.6 L432.9 24.6 L433.4 24.7 L433.8 24.5 L434.3 24.5 L434.7 24.6 L435.1 24.6 L435.6 24.7 L436.0 24.5 L436.5 25.1 L436.9 24.9 L437.4 24.6 L437.8 24.7 L438.2 24.7 L438.7 24.7 L439.1 24.6 L439.6 25.1 L440.0 25.2 L440.4 24.8 L440.9 24.8 L441.3 24.5 L441.8 24.6 L442.2 24.7 L442.7 24.7 L443.1 25.1 L443.5 24.6 L444.0 24.5 L444.4 25.1 L444.9 24.9 L445.3 24.6 L445.8 24.9 L446.2 24.5 L446.6 24.9 L447.1 25.2 L447.5 25.1 L448.0 25.0 L448.4 24.7 L448.8 24.7 L449.3 24.6 L449.7 25.0 L450.2 24.9 L450.6 25.0 L451.1 24.7 L451.5 24.6 L451.9 25.1 L452.4 25.2 L452.8 25.1 L453.3 25.0 L453.7 25.1 L454.2 25.0 L454.6 24.6 L455.0 24.8 L455.5 24.7 L455.9 24.5 L456.4 24.5 L456.8 24.7 L457.2 24.7 L457.7 25.0 L458.1 25.2 L458.6 24.8 L459.0 25.1 L459.5 25.2 L459.9 25.2 L460.3 24.7 L460.8 24.6 L461.2 24.6 L461.7 24.6 L462.1 24.6 L462.5 24.9 L463.0 25.1 L463.4 25.1 L463.9 24.8 L464.3 24.9 L464.8 25.0 L465.2 24.5 L465.6 24.9 L466.1 25.1 L466.5 25.0 L467.0 25.0 L467.4 24.8 L467.9 24.6 L468.3 25.0 L468.7 24.7 L469.2 25.0 L469.6 25.2 L470.1 24.8 L470.5 24.8 L470.9 25.1 L471.4 25.0 L471.8 24.6 L472.3 24.6 L472.7 24.6 L473.2 25.1 L473.6 25.0 L474.0 24.6 L474.5 25.1 L474.9 25.2 L475.4 24.9 L475.8 24.7 L476.2 24.9 L476.7 24.6 L477.1 24.5 L477.6 25.2 L478.0 24.9 L478.5 24.9 L478.9 25.1 L479.3 24.8 L479.8 25.1 L480.2 25.1 L480.7 24.6 L481.1 24.7 L481.6 24.7 L482.0 24.7 L482.4 24.9 L482.9 24.7 L483.3 24.8 L483.8 24.6 L484.2 25.1 L484.6 24.7 L485.1 24.8 L485.5 24.9 L486.0 25.1 L486.4 24.8 L486.9 25.1 L487.3 24.8 L487.7 24.9 L488.2 24.8 L488.6 24.5 L489.1 24.8 L489.5 24.6 L490.0 24.5 L490.4 25.0 L490.8 24.6 L491.3 24.8 L491.7 25.0 L492.2 24.9 L492.6 24.7 L493.0 24.8 L493.5 24.9 L493.9 25.0 L494.4 24.6 L494.8 24.9 L495.3 24.7 L495.7 24.7 L496.1 25.0 L496.6 24.8 L497.0 24.9 L497.5 25.0 L497.9 25.1 L498.4 24.8 L498.8 24.9 L499.2 24.8 L499.7 24.8 L500.1 25.0 L500.6 24.8 L501.0 24.9 L501.4 24.8 L501.9 25.1 L502.3 25.0 L502.8 25.1 L503.2 25.1 L503.7 24.7 L504.1 24.9 L504.5 25.1 L505.0 25.1 L505.4 24.6 L505.9 24.6 L506.3 24.8 L506.7 24.5 L507.2 24.7 L507.6 24.5 L508.1 25.0 L508.5 25.0 L509.0 25.1 L509.4 24.6 L509.8 25.0 L510.3 24.9 L510.7 24.6 L511.2 25.1 L511.6 25.2 L512.1 24.6 L512.5 25.2 L512.9 24.8 L513.4 24.8 L513.8 25.2 L514.3 25.1 L514.7 24.6 L515.1 24.8 L515.6 24.8 L516.0 24.7 L516.5 24.6 L516.9 24.7 L517.4 25.0 L517.8 24.5 L518.2 24.9 L518.7 24.8 L519.1 24.5 L519.6 24.7 L520.0 24.9 L520.5 24.8 L520.9 24.5 L521.3 25.2 L521.8 25.0" fill="none" stroke="#1a1a1a" stroke-width="2.1" stroke-linejoin="round"/>
<path d="M376.8 48.5 L377.2 48.0 L377.7 48.1 L378.1 47.9 L378.6 48.4 L379.0 48.1 L379.5 48.0 L379.9 48.2 L380.3 48.5 L380.8 48.4 L381.2 48.1 L381.7 48.0 L382.1 48.5 L382.5 48.3 L383.0 48.4 L383.4 48.0 L383.9 48.0 L384.3 48.4 L384.8 48.3 L385.2 48.1 L385.6 48.6 L386.1 48.5 L386.5 48.6 L387.0 48.2 L387.4 48.7 L387.9 48.2 L388.3 48.7 L388.7 48.5 L389.2 48.5 L389.6 48.6 L390.1 48.9 L390.5 48.6 L390.9 48.5 L391.4 48.8 L391.8 48.7 L392.3 48.6 L392.7 48.7 L393.2 48.7 L393.6 48.8 L394.0 48.9 L394.5 49.0 L394.9 49.3 L395.4 49.1 L395.8 49.3 L396.2 49.1 L396.7 49.3 L397.1 49.2 L397.6 49.4 L398.0 49.3 L398.5 49.8 L398.9 49.7 L399.3 49.6 L399.8 49.8 L400.2 50.1 L400.7 49.7 L401.1 50.2 L401.6 50.0 L402.0 50.1 L402.4 50.4 L402.9 50.2 L403.3 50.3 L403.8 50.4 L404.2 50.7 L404.6 50.3 L405.1 50.7 L405.5 50.7 L406.0 50.7 L406.4 50.6 L406.9 50.6 L407.3 50.5 L407.7 50.6 L408.2 50.6 L408.6 51.0 L409.1 50.8 L409.5 50.7 L409.9 50.7 L410.4 51.2 L410.8 51.3 L411.3 51.2 L411.7 51.0 L412.2 51.0 L412.6 51.0 L413.0 51.1 L413.5 51.0 L413.9 51.2 L414.4 51.1 L414.8 51.5 L415.3 51.5 L415.7 51.3 L416.1 51.1 L416.6 51.5 L417.0 51.1 L417.5 51.2 L417.9 51.0 L418.3 51.2 L418.8 51.2 L419.2 51.3 L419.7 51.1 L420.1 51.2 L420.6 50.9 L421.0 51.1 L421.4 51.0 L421.9 51.1 L422.3 50.9 L422.8 50.9 L423.2 51.1 L423.7 51.0 L424.1 51.2 L424.5 51.2 L425.0 51.3 L425.4 51.2 L425.9 51.2 L426.3 51.3 L426.7 51.0 L427.2 51.0 L427.6 51.3 L428.1 50.8 L428.5 51.2 L429.0 51.1 L429.4 50.7 L429.8 51.2 L430.3 51.2 L430.7 51.1 L431.2 51.1 L431.6 51.2 L432.1 50.8 L432.5 51.0 L432.9 51.0 L433.4 51.2 L433.8 51.2 L434.3 51.2 L434.7 51.1 L435.1 51.3 L435.6 51.2 L436.0 51.2 L436.5 51.0 L436.9 50.9 L437.4 51.0 L437.8 51.1 L438.2 51.0 L438.7 51.5 L439.1 51.3 L439.6 51.4 L440.0 51.4 L440.4 51.5 L440.9 51.4 L441.3 51.2 L441.8 51.7 L442.2 51.7 L442.7 51.6 L443.1 51.6 L443.5 51.8 L444.0 51.5 L444.4 51.9 L444.9 51.7 L445.3 51.6 L445.8 51.8 L446.2 52.1 L446.6 51.8 L447.1 52.2 L447.5 52.4 L448.0 52.1 L448.4 52.1 L448.8 52.2 L449.3 52.4 L449.7 52.5 L450.2 52.5 L450.6 52.5 L451.1 52.2 L451.5 52.3 L451.9 52.4 L452.4 52.7 L452.8 52.5 L453.3 52.7 L453.7 52.4 L454.2 52.5 L454.6 52.7 L455.0 52.9 L455.5 53.0 L455.9 53.0 L456.4 52.8 L456.8 53.0 L457.2 52.9 L457.7 53.0 L458.1 52.8 L458.6 53.3 L459.0 52.9 L459.5 53.3 L459.9 53.3 L460.3 52.8 L460.8 53.1 L461.2 53.3 L461.7 53.4 L462.1 53.1 L462.5 53.0 L463.0 52.9 L463.4 53.4 L463.9 52.9 L464.3 53.1 L464.8 52.9 L465.2 53.1 L465.6 53.3 L466.1 52.8 L466.5 53.2 L467.0 53.0 L467.4 53.2 L467.9 53.1 L468.3 52.8 L468.7 53.2 L469.2 52.9 L469.6 52.6 L470.1 52.6 L470.5 52.9 L470.9 52.8 L471.4 52.7 L471.8 52.6 L472.3 52.7 L472.7 52.7 L473.2 53.0 L473.6 52.4 L474.0 52.9 L474.5 52.9 L474.9 52.5 L475.4 52.9 L475.8 52.8 L476.2 52.9 L476.7 52.5 L477.1 52.5 L477.6 52.5 L478.0 52.9 L478.5 52.6 L478.9 52.5 L479.3 52.5 L479.8 52.4 L480.2 52.3 L480.7 52.3 L481.1 52.8 L481.6 52.4 L482.0 52.8 L482.4 52.4 L482.9 52.5 L483.3 52.6 L483.8 52.4 L484.2 52.6 L484.6 52.9 L485.1 52.9 L485.5 52.9 L486.0 52.8 L486.4 53.0 L486.9 53.0 L487.3 52.8 L487.7 53.0 L488.2 52.6 L488.6 53.0 L489.1 52.9 L489.5 53.1 L490.0 53.1 L490.4 52.9 L490.8 52.8 L491.3 53.4 L491.7 52.9 L492.2 53.2 L492.6 53.1 L493.0 53.1 L493.5 53.5 L493.9 53.6 L494.4 53.2 L494.8 53.5 L495.3 53.4 L495.7 53.6 L496.1 53.5 L496.6 53.4 L497.0 53.4 L497.5 53.5 L497.9 54.0 L498.4 53.8 L498.8 53.6 L499.2 54.1 L499.7 54.2 L500.1 53.9 L500.6 53.7 L501.0 53.8 L501.4 53.8 L501.9 54.0 L502.3 53.8 L502.8 53.9 L503.2 54.0 L503.7 54.2 L504.1 54.4 L504.5 54.3 L505.0 54.2 L505.4 54.2 L505.9 54.2 L506.3 54.2 L506.7 54.2 L507.2 54.0 L507.6 54.1 L508.1 54.6 L508.5 54.1 L509.0 54.3 L509.4 54.4 L509.8 54.5 L510.3 54.1 L510.7 54.1 L511.2 54.1 L511.6 54.2 L512.1 54.2 L512.5 54.5 L512.9 54.4 L513.4 54.4 L513.8 53.9 L514.3 53.9 L514.7 54.2 L515.1 54.3 L515.6 54.1 L516.0 54.1 L516.5 53.7 L516.9 53.9 L517.4 54.2 L517.8 54.2 L518.2 54.1 L518.7 54.2 L519.1 53.7 L519.6 53.6 L520.0 53.6 L520.5 53.8 L520.9 53.9 L521.3 54.0 L521.8 53.9" fill="none" stroke="#b5b5b5" stroke-width="2.4" stroke-linejoin="round"/>
<path d="M376.8 47.3 L377.2 47.4 L377.7 47.2 L378.1 47.2 L378.6 46.9 L379.0 47.4 L379.5 47.1 L379.9 47.5 L380.3 47.3 L380.8 47.1 L381.2 47.0 L381.7 47.1 L382.1 47.3 L382.5 47.4 L383.0 47.0 L383.4 47.0 L383.9 47.3 L384.3 47.4 L384.8 47.3 L385.2 47.2 L385.6 47.4 L386.1 47.1 L386.5 47.3 L387.0 47.4 L387.4 47.7 L387.9 47.6 L388.3 47.7 L388.7 47.5 L389.2 47.4 L389.6 47.5 L390.1 47.9 L390.5 47.8 L390.9 47.6 L391.4 47.5 L391.8 47.8 L392.3 48.0 L392.7 47.9 L393.2 47.8 L393.6 48.1 L394.0 48.3 L394.5 47.9 L394.9 47.9 L395.4 48.1 L395.8 48.2 L396.2 48.4 L396.7 48.2 L397.1 48.6 L397.6 48.6 L398.0 48.6 L398.5 48.4 L398.9 49.0 L399.3 48.6 L399.8 49.0 L400.2 48.7 L400.7 48.8 L401.1 49.1 L401.6 48.9 L402.0 49.4 L402.4 49.2 L402.9 49.0 L403.3 49.1 L403.8 49.3 L404.2 49.5 L404.6 49.7 L405.1 49.3 L405.5 49.5 L406.0 49.4 L406.4 49.9 L406.9 49.5 L407.3 49.5 L407.7 49.5 L408.2 49.8 L408.6 50.1 L409.1 50.1 L409.5 50.1 L409.9 50.3 L410.4 50.3 L410.8 49.9 L411.3 49.9 L411.7 50.4 L412.2 50.3 L412.6 49.9 L413.0 50.3 L413.5 50.1 L413.9 50.1 L414.4 50.1 L414.8 50.0 L415.3 49.9 L415.7 50.1 L416.1 50.2 L416.6 50.5 L417.0 50.0 L417.5 50.5 L417.9 50.1 L418.3 50.2 L418.8 50.5 L419.2 50.4 L419.7 50.2 L420.1 50.0 L420.6 50.2 L421.0 50.2 L421.4 50.5 L421.9 50.0 L422.3 50.1 L422.8 50.4 L423.2 49.9 L423.7 50.1 L424.1 50.3 L424.5 50.3 L425.0 49.8 L425.4 49.8 L425.9 49.8 L426.3 50.3 L426.7 49.9 L427.2 50.2 L427.6 50.3 L428.1 49.9 L428.5 49.9 L429.0 50.3 L429.4 50.1 L429.8 49.9 L430.3 50.1 L430.7 49.9 L431.2 49.9 L431.6 49.7 L432.1 50.2 L432.5 50.3 L432.9 50.1 L433.4 50.3 L433.8 49.7 L434.3 49.9 L434.7 50.0 L435.1 50.3 L435.6 50.4 L436.0 50.0 L436.5 50.0 L436.9 50.1 L437.4 50.2 L437.8 50.5 L438.2 50.0 L438.7 50.4 L439.1 50.4 L439.6 50.5 L440.0 50.5 L440.4 50.4 L440.9 50.3 L441.3 50.3 L441.8 50.4 L442.2 50.7 L442.7 50.3 L443.1 50.4 L443.5 50.8 L444.0 50.6 L444.4 50.5 L444.9 50.5 L445.3 50.9 L445.8 50.8 L446.2 51.2 L446.6 51.2 L447.1 51.3 L447.5 51.0 L448.0 50.9 L448.4 50.9 L448.8 51.2 L449.3 51.4 L449.7 51.3 L450.2 51.2 L450.6 51.4 L451.1 51.5 L451.5 51.6 L451.9 51.7 L452.4 51.8 L452.8 51.7 L453.3 51.5 L453.7 51.9 L454.2 51.6 L454.6 51.8 L455.0 51.8 L455.5 52.0 L455.9 51.7 L456.4 51.8 L456.8 51.8 L457.2 51.8 L457.7 52.2 L458.1 52.1 L458.6 51.9 L459.0 52.0 L459.5 52.4 L459.9 52.1 L460.3 51.9 L460.8 52.3 L461.2 52.2 L461.7 52.4 L462.1 51.9 L462.5 52.1 L463.0 52.3 L463.4 52.3 L463.9 52.3 L464.3 51.8 L464.8 52.0 L465.2 51.8 L465.6 51.9 L466.1 52.3 L466.5 52.1 L467.0 52.3 L467.4 51.9 L467.9 52.2 L468.3 51.9 L468.7 51.8 L469.2 52.1 L469.6 52.2 L470.1 51.7 L470.5 51.9 L470.9 51.9 L471.4 51.7 L471.8 51.7 L472.3 51.6 L472.7 51.6 L473.2 51.6 L473.6 51.8 L474.0 51.8 L474.5 51.5 L474.9 51.4 L475.4 51.6 L475.8 51.8 L476.2 51.4 L476.7 51.5 L477.1 51.4 L477.6 51.8 L478.0 51.6 L478.5 51.3 L478.9 51.3 L479.3 51.5 L479.8 51.6 L480.2 51.6 L480.7 51.3 L481.1 51.4 L481.6 51.7 L482.0 51.5 L482.4 51.5 L482.9 51.5 L483.3 51.9 L483.8 51.5 L484.2 51.7 L484.6 51.6 L485.1 51.6 L485.5 51.9 L486.0 52.0 L486.4 51.7 L486.9 51.6 L487.3 51.9 L487.7 51.6 L488.2 51.6 L488.6 52.1 L489.1 51.9 L489.5 52.1 L490.0 51.9 L490.4 52.3 L490.8 52.0 L491.3 51.9 L491.7 51.8 L492.2 52.2 L492.6 52.3 L493.0 52.5 L493.5 52.1 L493.9 52.4 L494.4 52.3 L494.8 52.4 L495.3 52.3 L495.7 52.4 L496.1 52.6 L496.6 52.9 L497.0 52.4 L497.5 52.7 L497.9 52.9 L498.4 53.1 L498.8 52.6 L499.2 52.6 L499.7 53.1 L500.1 53.2 L500.6 52.9 L501.0 52.7 L501.4 53.3 L501.9 53.0 L502.3 53.3 L502.8 53.2 L503.2 53.3 L503.7 52.9 L504.1 53.3 L504.5 53.0 L505.0 53.1 L505.4 53.4 L505.9 53.4 L506.3 53.1 L506.7 53.1 L507.2 53.2 L507.6 53.3 L508.1 53.2 L508.5 53.0 L509.0 53.1 L509.4 53.4 L509.8 53.5 L510.3 53.0 L510.7 53.3 L511.2 53.4 L511.6 53.0 L512.1 53.4 L512.5 53.0 L512.9 53.3 L513.4 53.2 L513.8 53.2 L514.3 53.0 L514.7 53.1 L515.1 53.1 L515.6 53.0 L516.0 53.2 L516.5 53.0 L516.9 53.0 L517.4 52.7 L517.8 53.0 L518.2 52.9 L518.7 52.8 L519.1 53.0 L519.6 53.0 L520.0 52.8 L520.5 52.6 L520.9 52.8 L521.3 52.5 L521.8 52.5" fill="none" stroke="#333" stroke-width="1" stroke-dasharray="2.2 1.4"/>
<path d="M440 21 V15 H455" fill="none" stroke="#000" stroke-width="1"/><path d="M458.5 15 l-4.5 -2 v4 z" fill="#000"/>
<path d="M457.5 62 V68.5 H443" fill="none" stroke="#000" stroke-width="1"/><path d="M439.5 68.5 l4.5 -2 v4 z" fill="#000"/>
<rect x="2.6" y="149.2" width="117" height="117.5" fill="#8b8b8b"/>
<g clip-path="url(#clipD)"><path d="M0 178 L14 177 C22 175 28 170 31 163 C33 157 35 152 38 147 L92 147 C98 151 103 155 108 162 C113 169 120 175 119 182 C115 188 111 192 109 198 C107 206 104 214 99.5 222 C101 226 96 230 90 233 C85 238 79 241 75 247 C71 253 68 259 63 264 L60 270 L0 270 Z" fill="#2e2e2e" filter="url(#texD)"/>
<g clip-path="url(#clipDb)"><g filter="url(#blurD2)">
<ellipse cx="98" cy="168" rx="15" ry="13" fill="#000" opacity="0.42"/>
<ellipse cx="18" cy="212" rx="22" ry="20" fill="#000" opacity="0.36"/>
<ellipse cx="22" cy="256" rx="28" ry="14" fill="#000" opacity="0.36"/>
<ellipse cx="55" cy="165" rx="18" ry="10" fill="#000" opacity="0.3"/>
<ellipse cx="70" cy="208" rx="22" ry="16" fill="#fff" opacity="0.12"/>
<ellipse cx="92" cy="210" rx="10" ry="14" fill="#fff" opacity="0.12"/>
</g></g></g>
<text x="97.5" y="258.6" font-size="12" font-weight="normal" text-anchor="middle" fill="#fff" stroke="#333" stroke-width="1.3" paint-order="stroke" stroke-linejoin="round" textLength="38.5" lengthAdjust="spacingAndGlyphs">200 nm</text>
<rect x="88.8" y="261.2" width="18" height="1.5" fill="#000"/><rect x="88.8" y="262.7" width="18" height="0.8" fill="#ccc"/>
<rect x="2.6" y="149.2" width="26.7" height="20.8" fill="#fe0000"/>
<text x="15.9" y="165.6" font-size="20.5" text-anchor="middle" fill="#fff" font-weight="normal">(d)</text>
<rect x="131" y="150" width="27.2" height="20.8" fill="#fe0000"/>
<text x="144.6" y="166.4" font-size="20.5" text-anchor="middle" fill="#fff" font-weight="normal">(e)</text>
<rect x="186.3" y="155.1" width="136.6" height="106.3" fill="#fff" stroke="#000" stroke-width="1.4"/>
<line x1="192.8" y1="261.4" x2="192.8" y2="259.0" stroke="#000" stroke-width="0.9"/>
<line x1="192.8" y1="155.1" x2="192.8" y2="157.29999999999998" stroke="#000" stroke-width="0.8"/>
<text x="192.8" y="271.0" font-size="7.0" font-weight="bold" text-anchor="middle" fill="#000" >0</text>
<line x1="209.1" y1="261.4" x2="209.1" y2="259.9" stroke="#000" stroke-width="0.8"/>
<line x1="209.1" y1="155.1" x2="209.1" y2="156.5" stroke="#000" stroke-width="0.7"/>
<line x1="225.3" y1="261.4" x2="225.3" y2="259.0" stroke="#000" stroke-width="0.9"/>
<line x1="225.3" y1="155.1" x2="225.3" y2="157.29999999999998" stroke="#000" stroke-width="0.8"/>
<text x="225.3" y="271.0" font-size="7.0" font-weight="bold" text-anchor="middle" fill="#000" >50</text>
<line x1="241.6" y1="261.4" x2="241.6" y2="259.9" stroke="#000" stroke-width="0.8"/>
<line x1="241.6" y1="155.1" x2="241.6" y2="156.5" stroke="#000" stroke-width="0.7"/>
<line x1="257.9" y1="261.4" x2="257.9" y2="259.0" stroke="#000" stroke-width="0.9"/>
<line x1="257.9" y1="155.1" x2="257.9" y2="157.29999999999998" stroke="#000" stroke-width="0.8"/>
<text x="257.9" y="271.0" font-size="7.0" font-weight="bold" text-anchor="middle" fill="#000" >100</text>
<line x1="274.1" y1="261.4" x2="274.1" y2="259.9" stroke="#000" stroke-width="0.8"/>
<line x1="274.1" y1="155.1" x2="274.1" y2="156.5" stroke="#000" stroke-width="0.7"/>
<line x1="290.4" y1="261.4" x2="290.4" y2="259.0" stroke="#000" stroke-width="0.9"/>
<line x1="290.4" y1="155.1" x2="290.4" y2="157.29999999999998" stroke="#000" stroke-width="0.8"/>
<text x="290.4" y="271.0" font-size="7.0" font-weight="bold" text-anchor="middle" fill="#000" >150</text>
<line x1="306.7" y1="261.4" x2="306.7" y2="259.9" stroke="#000" stroke-width="0.8"/>
<line x1="306.7" y1="155.1" x2="306.7" y2="156.5" stroke="#000" stroke-width="0.7"/>
<line x1="322.9" y1="261.4" x2="322.9" y2="259.0" stroke="#000" stroke-width="0.9"/>
<line x1="322.9" y1="155.1" x2="322.9" y2="157.29999999999998" stroke="#000" stroke-width="0.8"/>
<text x="322.9" y="271.0" font-size="7.0" font-weight="bold" text-anchor="middle" fill="#000" >200</text>
<line x1="183.70000000000002" y1="261.4" x2="186.3" y2="261.4" stroke="#000" stroke-width="1"/>
<text x="182.5" y="263.8" font-size="6.6" font-weight="bold" text-anchor="end" fill="#000" >1.0</text>
<line x1="184.8" y1="248.1" x2="186.3" y2="248.1" stroke="#000" stroke-width="0.8"/>
<line x1="183.70000000000002" y1="234.8" x2="186.3" y2="234.8" stroke="#000" stroke-width="1"/>
<text x="182.5" y="237.2" font-size="6.6" font-weight="bold" text-anchor="end" fill="#000" >1.5</text>
<line x1="184.8" y1="221.5" x2="186.3" y2="221.5" stroke="#000" stroke-width="0.8"/>
<line x1="183.70000000000002" y1="208.2" x2="186.3" y2="208.2" stroke="#000" stroke-width="1"/>
<text x="182.5" y="210.7" font-size="6.6" font-weight="bold" text-anchor="end" fill="#000" >2.0</text>
<line x1="184.8" y1="195.0" x2="186.3" y2="195.0" stroke="#000" stroke-width="0.8"/>
<line x1="183.70000000000002" y1="181.7" x2="186.3" y2="181.7" stroke="#000" stroke-width="1"/>
<text x="182.5" y="184.1" font-size="6.6" font-weight="bold" text-anchor="end" fill="#000" >2.5</text>
<line x1="184.8" y1="168.4" x2="186.3" y2="168.4" stroke="#000" stroke-width="0.8"/>
<line x1="183.70000000000002" y1="155.1" x2="186.3" y2="155.1" stroke="#000" stroke-width="1"/>
<text x="182.5" y="157.5" font-size="6.6" font-weight="bold" text-anchor="end" fill="#000" >3.0</text>
<text x="254.5" y="281.0" font-size="8.6" font-weight="bold" text-anchor="middle" fill="#000" >Specific  Capacity,  (mAh/g)</text>
<text transform="translate(169.8,209.5) rotate(-90)" font-size="8.2" font-weight="bold" text-anchor="middle">Voltage (vs. Li)</text>
<rect x="191.7" y="154.0" width="2.2" height="2.2" fill="#fe0000"/><rect x="191.8" y="158.6" width="2.2" height="2.2" fill="#fe0000"/><rect x="191.9" y="163.2" width="2.2" height="2.2" fill="#fe0000"/><rect x="192.0" y="167.9" width="2.2" height="2.2" fill="#fe0000"/><rect x="192.2" y="172.9" width="2.2" height="2.2" fill="#fe0000"/><rect x="192.3" y="177.8" width="2.2" height="2.2" fill="#fe0000"/><rect x="192.4" y="181.3" width="2.2" height="2.2" fill="#fe0000"/><rect x="192.5" y="185.1" width="2.2" height="2.2" fill="#fe0000"/><rect x="192.8" y="189.1" width="2.2" height="2.2" fill="#fe0000"/><rect x="193.0" y="192.3" width="2.2" height="2.2" fill="#fe0000"/><rect x="193.3" y="195.6" width="2.2" height="2.2" fill="#fe0000"/><rect x="193.6" y="199.3" width="2.2" height="2.2" fill="#fe0000"/><rect x="194.0" y="202.6" width="2.2" height="2.2" fill="#fe0000"/><rect x="194.4" y="205.9" width="2.2" height="2.2" fill="#fe0000"/><rect x="195.3" y="209.0" width="2.2" height="2.2" fill="#fe0000"/><rect x="196.8" y="211.9" width="2.2" height="2.2" fill="#fe0000"/><rect x="199.0" y="214.3" width="2.2" height="2.2" fill="#fe0000"/><rect x="201.7" y="216.0" width="2.2" height="2.2" fill="#fe0000"/><rect x="204.6" y="217.0" width="2.2" height="2.2" fill="#fe0000"/><rect x="207.8" y="217.5" width="2.2" height="2.2" fill="#fe0000"/><rect x="210.9" y="217.8" width="2.2" height="2.2" fill="#fe0000"/><rect x="214.1" y="217.9" width="2.2" height="2.2" fill="#fe0000"/><rect x="217.3" y="217.9" width="2.2" height="2.2" fill="#fe0000"/><rect x="220.4" y="218.0" width="2.2" height="2.2" fill="#fe0000"/><rect x="223.6" y="218.0" width="2.2" height="2.2" fill="#fe0000"/><rect x="226.8" y="218.2" width="2.2" height="2.2" fill="#fe0000"/><rect x="229.9" y="218.4" width="2.2" height="2.2" fill="#fe0000"/><rect x="233.1" y="218.8" width="2.2" height="2.2" fill="#fe0000"/><rect x="236.1" y="219.7" width="2.2" height="2.2" fill="#fe0000"/><rect x="239.0" y="221.0" width="2.2" height="2.2" fill="#fe0000"/><rect x="241.8" y="222.3" width="2.2" height="2.2" fill="#fe0000"/><rect x="244.7" y="223.7" width="2.2" height="2.2" fill="#fe0000"/><rect x="247.6" y="225.1" width="2.2" height="2.2" fill="#fe0000"/><rect x="250.4" y="226.5" width="2.2" height="2.2" fill="#fe0000"/><rect x="253.3" y="227.8" width="2.2" height="2.2" fill="#fe0000"/><rect x="256.2" y="229.2" width="2.2" height="2.2" fill="#fe0000"/><rect x="259.1" y="230.5" width="2.2" height="2.2" fill="#fe0000"/><rect x="262.0" y="231.8" width="2.2" height="2.2" fill="#fe0000"/><rect x="264.9" y="233.1" width="2.2" height="2.2" fill="#fe0000"/><rect x="267.9" y="234.3" width="2.2" height="2.2" fill="#fe0000"/><rect x="270.8" y="235.5" width="2.2" height="2.2" fill="#fe0000"/><rect x="273.7" y="236.8" width="2.2" height="2.2" fill="#fe0000"/><rect x="276.6" y="238.2" width="2.2" height="2.2" fill="#fe0000"/><rect x="279.4" y="239.7" width="2.2" height="2.2" fill="#fe0000"/><rect x="282.2" y="241.3" width="2.2" height="2.2" fill="#fe0000"/><rect x="284.9" y="243.1" width="2.2" height="2.2" fill="#fe0000"/><rect x="287.5" y="244.9" width="2.2" height="2.2" fill="#fe0000"/><rect x="290.0" y="246.8" width="2.2" height="2.2" fill="#fe0000"/><rect x="292.4" y="248.9" width="2.2" height="2.2" fill="#fe0000"/><rect x="294.8" y="251.1" width="2.2" height="2.2" fill="#fe0000"/><rect x="297.1" y="253.2" width="2.2" height="2.2" fill="#fe0000"/><rect x="299.5" y="255.4" width="2.2" height="2.2" fill="#fe0000"/><rect x="301.8" y="257.6" width="2.2" height="2.2" fill="#fe0000"/><rect x="304.2" y="259.7" width="2.2" height="2.2" fill="#fe0000"/>
<rect x="191.7" y="154.0" width="2.2" height="2.2" fill="#000"/><rect x="191.8" y="158.8" width="2.2" height="2.2" fill="#000"/><rect x="191.9" y="163.6" width="2.2" height="2.2" fill="#000"/><rect x="192.1" y="168.4" width="2.2" height="2.2" fill="#000"/><rect x="192.2" y="173.6" width="2.2" height="2.2" fill="#000"/><rect x="192.3" y="178.5" width="2.2" height="2.2" fill="#000"/><rect x="192.4" y="181.8" width="2.2" height="2.2" fill="#000"/><rect x="192.6" y="185.6" width="2.2" height="2.2" fill="#000"/><rect x="192.8" y="189.6" width="2.2" height="2.2" fill="#000"/><rect x="193.0" y="192.8" width="2.2" height="2.2" fill="#000"/><rect x="193.3" y="196.2" width="2.2" height="2.2" fill="#000"/><rect x="193.6" y="199.4" width="2.2" height="2.2" fill="#000"/><rect x="194.0" y="202.7" width="2.2" height="2.2" fill="#000"/><rect x="194.4" y="206.0" width="2.2" height="2.2" fill="#000"/><rect x="195.4" y="209.2" width="2.2" height="2.2" fill="#000"/><rect x="196.9" y="211.9" width="2.2" height="2.2" fill="#000"/><rect x="199.1" y="214.3" width="2.2" height="2.2" fill="#000"/><rect x="201.7" y="216.0" width="2.2" height="2.2" fill="#000"/><rect x="204.7" y="217.0" width="2.2" height="2.2" fill="#000"/><rect x="207.9" y="217.5" width="2.2" height="2.2" fill="#000"/><rect x="211.0" y="217.8" width="2.2" height="2.2" fill="#000"/><rect x="214.2" y="217.9" width="2.2" height="2.2" fill="#000"/><rect x="217.4" y="217.9" width="2.2" height="2.2" fill="#000"/><rect x="220.5" y="218.0" width="2.2" height="2.2" fill="#000"/><rect x="223.7" y="218.0" width="2.2" height="2.2" fill="#000"/><rect x="226.8" y="218.1" width="2.2" height="2.2" fill="#000"/><rect x="230.0" y="218.2" width="2.2" height="2.2" fill="#000"/><rect x="233.1" y="218.3" width="2.2" height="2.2" fill="#000"/><rect x="236.3" y="218.5" width="2.2" height="2.2" fill="#000"/><rect x="239.5" y="218.8" width="2.2" height="2.2" fill="#000"/><rect x="242.6" y="219.4" width="2.2" height="2.2" fill="#000"/><rect x="245.7" y="220.2" width="2.2" height="2.2" fill="#000"/><rect x="248.7" y="221.1" width="2.2" height="2.2" fill="#000"/><rect x="251.7" y="222.1" width="2.2" height="2.2" fill="#000"/><rect x="254.7" y="223.2" width="2.2" height="2.2" fill="#000"/><rect x="257.6" y="224.6" width="2.2" height="2.2" fill="#000"/><rect x="260.5" y="225.9" width="2.2" height="2.2" fill="#000"/><rect x="263.4" y="227.1" width="2.2" height="2.2" fill="#000"/><rect x="266.4" y="228.3" width="2.2" height="2.2" fill="#000"/><rect x="269.4" y="229.5" width="2.2" height="2.2" fill="#000"/><rect x="272.3" y="230.7" width="2.2" height="2.2" fill="#000"/><rect x="275.2" y="232.0" width="2.2" height="2.2" fill="#000"/><rect x="278.1" y="233.4" width="2.2" height="2.2" fill="#000"/><rect x="280.9" y="234.9" width="2.2" height="2.2" fill="#000"/><rect x="283.7" y="236.5" width="2.2" height="2.2" fill="#000"/><rect x="286.3" y="238.3" width="2.2" height="2.2" fill="#000"/><rect x="289.0" y="240.1" width="2.2" height="2.2" fill="#000"/><rect x="291.5" y="242.1" width="2.2" height="2.2" fill="#000"/><rect x="293.9" y="244.2" width="2.2" height="2.2" fill="#000"/><rect x="296.2" y="246.5" width="2.2" height="2.2" fill="#000"/><rect x="298.5" y="248.7" width="2.2" height="2.2" fill="#000"/><rect x="300.7" y="251.0" width="2.2" height="2.2" fill="#000"/><rect x="302.9" y="253.4" width="2.2" height="2.2" fill="#000"/><rect x="305.0" y="255.8" width="2.2" height="2.2" fill="#000"/><rect x="307.0" y="258.3" width="2.2" height="2.2" fill="#000"/>
<rect x="191.7" y="260.3" width="2.2" height="2.2" fill="#000"/><rect x="193.2" y="257.7" width="2.2" height="2.2" fill="#000"/><rect x="194.3" y="254.7" width="2.2" height="2.2" fill="#000"/><rect x="195.5" y="251.8" width="2.2" height="2.2" fill="#000"/><rect x="196.9" y="248.9" width="2.2" height="2.2" fill="#000"/><rect x="198.4" y="246.1" width="2.2" height="2.2" fill="#000"/><rect x="200.1" y="243.4" width="2.2" height="2.2" fill="#000"/><rect x="201.9" y="240.7" width="2.2" height="2.2" fill="#000"/><rect x="203.8" y="238.2" width="2.2" height="2.2" fill="#000"/><rect x="205.8" y="235.7" width="2.2" height="2.2" fill="#000"/><rect x="207.9" y="233.3" width="2.2" height="2.2" fill="#000"/><rect x="210.1" y="231.0" width="2.2" height="2.2" fill="#000"/><rect x="212.5" y="229.0" width="2.2" height="2.2" fill="#000"/><rect x="215.1" y="227.1" width="2.2" height="2.2" fill="#000"/><rect x="217.8" y="225.4" width="2.2" height="2.2" fill="#000"/><rect x="220.5" y="223.8" width="2.2" height="2.2" fill="#000"/><rect x="223.3" y="222.3" width="2.2" height="2.2" fill="#000"/><rect x="226.2" y="220.9" width="2.2" height="2.2" fill="#000"/><rect x="229.3" y="220.0" width="2.2" height="2.2" fill="#000"/><rect x="232.3" y="219.2" width="2.2" height="2.2" fill="#000"/><rect x="235.4" y="218.5" width="2.2" height="2.2" fill="#000"/><rect x="238.4" y="217.4" width="2.2" height="2.2" fill="#000"/><rect x="241.4" y="216.3" width="2.2" height="2.2" fill="#000"/><rect x="244.4" y="215.2" width="2.2" height="2.2" fill="#000"/><rect x="247.3" y="214.0" width="2.2" height="2.2" fill="#000"/><rect x="250.4" y="213.1" width="2.2" height="2.2" fill="#000"/><rect x="253.6" y="212.9" width="2.2" height="2.2" fill="#000"/><rect x="256.7" y="212.8" width="2.2" height="2.2" fill="#000"/><rect x="259.9" y="212.8" width="2.2" height="2.2" fill="#000"/><rect x="263.1" y="212.7" width="2.2" height="2.2" fill="#000"/><rect x="266.3" y="212.7" width="2.2" height="2.2" fill="#000"/><rect x="269.5" y="212.6" width="2.2" height="2.2" fill="#000"/><rect x="272.7" y="212.6" width="2.2" height="2.2" fill="#000"/><rect x="275.9" y="212.6" width="2.2" height="2.2" fill="#000"/><rect x="279.1" y="212.5" width="2.2" height="2.2" fill="#000"/><rect x="282.3" y="212.5" width="2.2" height="2.2" fill="#000"/><rect x="285.5" y="212.4" width="2.2" height="2.2" fill="#000"/><rect x="288.7" y="212.2" width="2.2" height="2.2" fill="#000"/><rect x="291.9" y="211.9" width="2.2" height="2.2" fill="#000"/><rect x="295.1" y="211.6" width="2.2" height="2.2" fill="#000"/><rect x="298.1" y="210.8" width="2.2" height="2.2" fill="#000"/><rect x="300.6" y="208.9" width="2.2" height="2.2" fill="#000"/><rect x="302.3" y="206.2" width="2.2" height="2.2" fill="#000"/><rect x="303.8" y="203.3" width="2.2" height="2.2" fill="#000"/><rect x="304.9" y="200.3" width="2.2" height="2.2" fill="#000"/><rect x="305.6" y="197.2" width="2.2" height="2.2" fill="#000"/><rect x="306.1" y="193.9" width="2.2" height="2.2" fill="#000"/><rect x="306.6" y="190.6" width="2.2" height="2.2" fill="#000"/><rect x="307.0" y="186.9" width="2.2" height="2.2" fill="#000"/><rect x="307.3" y="183.0" width="2.2" height="2.2" fill="#000"/><rect x="307.4" y="178.8" width="2.2" height="2.2" fill="#000"/><rect x="307.6" y="174.3" width="2.2" height="2.2" fill="#000"/><rect x="307.7" y="169.2" width="2.2" height="2.2" fill="#000"/><rect x="307.8" y="163.7" width="2.2" height="2.2" fill="#000"/><rect x="307.9" y="157.4" width="2.2" height="2.2" fill="#000"/><rect x="308.0" y="154.0" width="2.2" height="2.2" fill="#000"/>
<rect x="191.7" y="260.3" width="2.2" height="2.2" fill="#fe0000"/><rect x="192.8" y="257.4" width="2.2" height="2.2" fill="#fe0000"/><rect x="193.8" y="254.4" width="2.2" height="2.2" fill="#fe0000"/><rect x="194.9" y="251.4" width="2.2" height="2.2" fill="#fe0000"/><rect x="196.2" y="248.5" width="2.2" height="2.2" fill="#fe0000"/><rect x="197.6" y="245.7" width="2.2" height="2.2" fill="#fe0000"/><rect x="199.3" y="242.9" width="2.2" height="2.2" fill="#fe0000"/><rect x="201.0" y="240.3" width="2.2" height="2.2" fill="#fe0000"/><rect x="202.9" y="237.6" width="2.2" height="2.2" fill="#fe0000"/><rect x="204.8" y="235.0" width="2.2" height="2.2" fill="#fe0000"/><rect x="206.7" y="232.4" width="2.2" height="2.2" fill="#fe0000"/><rect x="208.8" y="230.0" width="2.2" height="2.2" fill="#fe0000"/><rect x="211.2" y="227.9" width="2.2" height="2.2" fill="#fe0000"/><rect x="213.8" y="226.1" width="2.2" height="2.2" fill="#fe0000"/><rect x="216.5" y="224.4" width="2.2" height="2.2" fill="#fe0000"/><rect x="219.3" y="222.8" width="2.2" height="2.2" fill="#fe0000"/><rect x="222.2" y="221.4" width="2.2" height="2.2" fill="#fe0000"/><rect x="225.2" y="220.3" width="2.2" height="2.2" fill="#fe0000"/><rect x="228.3" y="219.6" width="2.2" height="2.2" fill="#fe0000"/><rect x="231.4" y="219.0" width="2.2" height="2.2" fill="#fe0000"/><rect x="234.5" y="218.4" width="2.2" height="2.2" fill="#fe0000"/><rect x="237.5" y="217.4" width="2.2" height="2.2" fill="#fe0000"/><rect x="240.5" y="216.3" width="2.2" height="2.2" fill="#fe0000"/><rect x="243.5" y="215.3" width="2.2" height="2.2" fill="#fe0000"/><rect x="246.5" y="214.2" width="2.2" height="2.2" fill="#fe0000"/><rect x="249.6" y="213.3" width="2.2" height="2.2" fill="#fe0000"/><rect x="252.8" y="212.9" width="2.2" height="2.2" fill="#fe0000"/><rect x="255.9" y="212.7" width="2.2" height="2.2" fill="#fe0000"/><rect x="259.1" y="212.6" width="2.2" height="2.2" fill="#fe0000"/><rect x="262.3" y="212.5" width="2.2" height="2.2" fill="#fe0000"/><rect x="265.5" y="212.4" width="2.2" height="2.2" fill="#fe0000"/><rect x="268.6" y="212.4" width="2.2" height="2.2" fill="#fe0000"/><rect x="271.8" y="212.3" width="2.2" height="2.2" fill="#fe0000"/><rect x="275.0" y="212.3" width="2.2" height="2.2" fill="#fe0000"/><rect x="278.1" y="212.3" width="2.2" height="2.2" fill="#fe0000"/><rect x="281.3" y="212.2" width="2.2" height="2.2" fill="#fe0000"/><rect x="284.5" y="211.9" width="2.2" height="2.2" fill="#fe0000"/><rect x="287.6" y="211.4" width="2.2" height="2.2" fill="#fe0000"/><rect x="290.6" y="210.5" width="2.2" height="2.2" fill="#fe0000"/><rect x="293.3" y="208.8" width="2.2" height="2.2" fill="#fe0000"/><rect x="295.2" y="206.2" width="2.2" height="2.2" fill="#fe0000"/><rect x="296.6" y="203.3" width="2.2" height="2.2" fill="#fe0000"/><rect x="297.5" y="200.1" width="2.2" height="2.2" fill="#fe0000"/><rect x="298.3" y="196.9" width="2.2" height="2.2" fill="#fe0000"/><rect x="299.0" y="193.8" width="2.2" height="2.2" fill="#fe0000"/><rect x="299.6" y="190.8" width="2.2" height="2.2" fill="#fe0000"/><rect x="300.3" y="187.4" width="2.2" height="2.2" fill="#fe0000"/><rect x="300.9" y="184.0" width="2.2" height="2.2" fill="#fe0000"/><rect x="301.5" y="180.6" width="2.2" height="2.2" fill="#fe0000"/><rect x="302.0" y="177.2" width="2.2" height="2.2" fill="#fe0000"/><rect x="302.5" y="174.0" width="2.2" height="2.2" fill="#fe0000"/><rect x="302.9" y="170.6" width="2.2" height="2.2" fill="#fe0000"/><rect x="303.4" y="167.1" width="2.2" height="2.2" fill="#fe0000"/><rect x="303.8" y="163.9" width="2.2" height="2.2" fill="#fe0000"/><rect x="304.2" y="160.5" width="2.2" height="2.2" fill="#fe0000"/><rect x="304.6" y="157.1" width="2.2" height="2.2" fill="#fe0000"/>
<line x1="209" y1="163.4" x2="218" y2="163.4" stroke="#000" stroke-width="0.6"/><rect x="212.4" y="162.3" width="2.2" height="2.2" fill="#000"/>
<rect x="212.4" y="171.2" width="2.2" height="2.2" fill="#fe0000"/>
<text x="220.5" y="166.2" font-size="7.3" font-weight="bold">Anatase TiO<tspan dy="2" font-size="4.6">2</tspan><tspan dy="-2">-FGS</tspan></text>
<text x="220.5" y="175.2" font-size="7.3" font-weight="bold">Anatase TiO<tspan dy="2" font-size="4.6">2</tspan></text>
<rect x="334.4" y="150.4" width="27.4" height="20.8" fill="#fe0000"/>
<text x="348.1" y="166.8" font-size="20.5" text-anchor="middle" fill="#fff" font-weight="normal">(f)</text>
<rect x="382.7" y="152.7" width="133.8" height="107.9" fill="#fff" stroke="#000" stroke-width="1.2"/>
<line x1="394.9" y1="260.6" x2="394.9" y2="258.20000000000005" stroke="#000" stroke-width="0.9"/>
<line x1="394.9" y1="152.7" x2="394.9" y2="154.89999999999998" stroke="#000" stroke-width="0.8"/>
<text x="394.9" y="269.5" font-size="7.0" font-weight="bold" text-anchor="middle" fill="#000" >0</text>
<line x1="382.7" y1="260.6" x2="382.7" y2="259.1" stroke="#000" stroke-width="0.8"/>
<line x1="382.7" y1="152.7" x2="382.7" y2="154.1" stroke="#000" stroke-width="0.7"/>
<line x1="419.3" y1="260.6" x2="419.3" y2="258.20000000000005" stroke="#000" stroke-width="0.9"/>
<line x1="419.3" y1="152.7" x2="419.3" y2="154.89999999999998" stroke="#000" stroke-width="0.8"/>
<text x="419.3" y="269.5" font-size="7.0" font-weight="bold" text-anchor="middle" fill="#000" >50</text>
<line x1="407.1" y1="260.6" x2="407.1" y2="259.1" stroke="#000" stroke-width="0.8"/>
<line x1="407.1" y1="152.7" x2="407.1" y2="154.1" stroke="#000" stroke-width="0.7"/>
<line x1="443.6" y1="260.6" x2="443.6" y2="258.20000000000005" stroke="#000" stroke-width="0.9"/>
<line x1="443.6" y1="152.7" x2="443.6" y2="154.89999999999998" stroke="#000" stroke-width="0.8"/>
<text x="443.6" y="269.5" font-size="7.0" font-weight="bold" text-anchor="middle" fill="#000" >100</text>
<line x1="431.4" y1="260.6" x2="431.4" y2="259.1" stroke="#000" stroke-width="0.8"/>
<line x1="431.4" y1="152.7" x2="431.4" y2="154.1" stroke="#000" stroke-width="0.7"/>
<line x1="468.0" y1="260.6" x2="468.0" y2="258.20000000000005" stroke="#000" stroke-width="0.9"/>
<line x1="468.0" y1="152.7" x2="468.0" y2="154.89999999999998" stroke="#000" stroke-width="0.8"/>
<text x="468.0" y="269.5" font-size="7.0" font-weight="bold" text-anchor="middle" fill="#000" >150</text>
<line x1="455.8" y1="260.6" x2="455.8" y2="259.1" stroke="#000" stroke-width="0.8"/>
<line x1="455.8" y1="152.7" x2="455.8" y2="154.1" stroke="#000" stroke-width="0.7"/>
<line x1="492.3" y1="260.6" x2="492.3" y2="258.20000000000005" stroke="#000" stroke-width="0.9"/>
<line x1="492.3" y1="152.7" x2="492.3" y2="154.89999999999998" stroke="#000" stroke-width="0.8"/>
<text x="492.3" y="269.5" font-size="7.0" font-weight="bold" text-anchor="middle" fill="#000" >200</text>
<line x1="480.2" y1="260.6" x2="480.2" y2="259.1" stroke="#000" stroke-width="0.8"/>
<line x1="480.2" y1="152.7" x2="480.2" y2="154.1" stroke="#000" stroke-width="0.7"/>
<line x1="516.7" y1="260.6" x2="516.7" y2="258.20000000000005" stroke="#000" stroke-width="0.9"/>
<line x1="516.7" y1="152.7" x2="516.7" y2="154.89999999999998" stroke="#000" stroke-width="0.8"/>
<text x="516.7" y="269.5" font-size="7.0" font-weight="bold" text-anchor="middle" fill="#000" >250</text>
<line x1="504.5" y1="260.6" x2="504.5" y2="259.1" stroke="#000" stroke-width="0.8"/>
<line x1="504.5" y1="152.7" x2="504.5" y2="154.1" stroke="#000" stroke-width="0.7"/>
<line x1="380.09999999999997" y1="260.6" x2="382.7" y2="260.6" stroke="#000" stroke-width="1"/>
<text x="378.9" y="263.0" font-size="6.6" font-weight="bold" text-anchor="end" fill="#000" >1.0</text>
<line x1="381.2" y1="247.1" x2="382.7" y2="247.1" stroke="#000" stroke-width="0.8"/>
<line x1="380.09999999999997" y1="233.6" x2="382.7" y2="233.6" stroke="#000" stroke-width="1"/>
<text x="378.9" y="236.0" font-size="6.6" font-weight="bold" text-anchor="end" fill="#000" >1.5</text>
<line x1="381.2" y1="220.1" x2="382.7" y2="220.1" stroke="#000" stroke-width="0.8"/>
<line x1="380.09999999999997" y1="206.7" x2="382.7" y2="206.7" stroke="#000" stroke-width="1"/>
<text x="378.9" y="209.1" font-size="6.6" font-weight="bold" text-anchor="end" fill="#000" >2.0</text>
<line x1="381.2" y1="193.2" x2="382.7" y2="193.2" stroke="#000" stroke-width="0.8"/>
<line x1="380.09999999999997" y1="179.7" x2="382.7" y2="179.7" stroke="#000" stroke-width="1"/>
<text x="378.9" y="182.1" font-size="6.6" font-weight="bold" text-anchor="end" fill="#000" >2.5</text>
<line x1="381.2" y1="166.2" x2="382.7" y2="166.2" stroke="#000" stroke-width="0.8"/>
<line x1="380.09999999999997" y1="152.7" x2="382.7" y2="152.7" stroke="#000" stroke-width="1"/>
<text x="378.9" y="155.1" font-size="6.6" font-weight="bold" text-anchor="end" fill="#000" >3.0</text>
<text x="453.5" y="280.2" font-size="8.6" font-weight="bold" text-anchor="middle" fill="#000" >Specific  Capacity,  (mAh/g)</text>
<text transform="translate(366.2,207.5) rotate(-90)" font-size="8.2" font-weight="bold" text-anchor="middle">Voltage (vs. Li)</text>
<circle cx="394.9" cy="152.7" r="1.2" fill="#fe0000"/><circle cx="394.9" cy="160.0" r="1.2" fill="#fe0000"/><circle cx="395.0" cy="165.6" r="1.2" fill="#fe0000"/><circle cx="395.1" cy="170.0" r="1.2" fill="#fe0000"/><circle cx="395.2" cy="173.2" r="1.2" fill="#fe0000"/><circle cx="395.3" cy="176.6" r="1.2" fill="#fe0000"/><circle cx="395.5" cy="180.2" r="1.2" fill="#fe0000"/><circle cx="395.8" cy="183.7" r="1.2" fill="#fe0000"/><circle cx="396.1" cy="186.8" r="1.2" fill="#fe0000"/><circle cx="396.5" cy="189.9" r="1.2" fill="#fe0000"/><circle cx="397.3" cy="193.0" r="1.2" fill="#fe0000"/><circle cx="398.3" cy="195.9" r="1.2" fill="#fe0000"/><circle cx="399.7" cy="198.7" r="1.2" fill="#fe0000"/><circle cx="401.1" cy="201.5" r="1.2" fill="#fe0000"/><circle cx="402.8" cy="204.1" r="1.2" fill="#fe0000"/><circle cx="404.6" cy="206.6" r="1.2" fill="#fe0000"/><circle cx="406.5" cy="209.0" r="1.2" fill="#fe0000"/><circle cx="408.6" cy="211.2" r="1.2" fill="#fe0000"/><circle cx="410.8" cy="213.4" r="1.2" fill="#fe0000"/><circle cx="413.1" cy="215.4" r="1.2" fill="#fe0000"/><circle cx="415.6" cy="217.2" r="1.2" fill="#fe0000"/><circle cx="418.3" cy="218.6" r="1.2" fill="#fe0000"/><circle cx="421.1" cy="220.0" r="1.2" fill="#fe0000"/><circle cx="423.8" cy="221.4" r="1.2" fill="#fe0000"/><circle cx="426.4" cy="223.1" r="1.2" fill="#fe0000"/><circle cx="428.9" cy="225.0" r="1.2" fill="#fe0000"/><circle cx="431.2" cy="227.0" r="1.2" fill="#fe0000"/><circle cx="433.5" cy="229.1" r="1.2" fill="#fe0000"/><circle cx="435.8" cy="231.1" r="1.2" fill="#fe0000"/><circle cx="438.2" cy="233.1" r="1.2" fill="#fe0000"/><circle cx="440.7" cy="234.9" r="1.2" fill="#fe0000"/><circle cx="443.2" cy="236.6" r="1.2" fill="#fe0000"/><circle cx="445.8" cy="238.3" r="1.2" fill="#fe0000"/><circle cx="448.4" cy="239.9" r="1.2" fill="#fe0000"/><circle cx="451.0" cy="241.5" r="1.2" fill="#fe0000"/><circle cx="453.6" cy="243.1" r="1.2" fill="#fe0000"/><circle cx="456.2" cy="244.7" r="1.2" fill="#fe0000"/><circle cx="458.9" cy="246.3" r="1.2" fill="#fe0000"/><circle cx="461.6" cy="247.9" r="1.2" fill="#fe0000"/><circle cx="464.2" cy="249.4" r="1.2" fill="#fe0000"/><circle cx="466.9" cy="251.0" r="1.2" fill="#fe0000"/><circle cx="469.5" cy="252.5" r="1.2" fill="#fe0000"/><circle cx="472.2" cy="254.0" r="1.2" fill="#fe0000"/><circle cx="474.8" cy="255.6" r="1.2" fill="#fe0000"/><circle cx="477.5" cy="257.1" r="1.2" fill="#fe0000"/><circle cx="480.2" cy="258.7" r="1.2" fill="#fe0000"/><circle cx="482.8" cy="260.2" r="1.2" fill="#fe0000"/>
<circle cx="394.9" cy="259.0" r="1.2" fill="#fe0000"/><circle cx="396.2" cy="256.2" r="1.2" fill="#fe0000"/><circle cx="397.5" cy="253.3" r="1.2" fill="#fe0000"/><circle cx="398.9" cy="250.6" r="1.2" fill="#fe0000"/><circle cx="400.5" cy="248.0" r="1.2" fill="#fe0000"/><circle cx="402.3" cy="245.4" r="1.2" fill="#fe0000"/><circle cx="404.1" cy="242.9" r="1.2" fill="#fe0000"/><circle cx="406.0" cy="240.4" r="1.2" fill="#fe0000"/><circle cx="407.9" cy="238.0" r="1.2" fill="#fe0000"/><circle cx="410.0" cy="235.7" r="1.2" fill="#fe0000"/><circle cx="412.0" cy="233.5" r="1.2" fill="#fe0000"/><circle cx="414.2" cy="231.2" r="1.2" fill="#fe0000"/><circle cx="416.4" cy="229.1" r="1.2" fill="#fe0000"/><circle cx="418.7" cy="227.0" r="1.2" fill="#fe0000"/><circle cx="421.0" cy="225.0" r="1.2" fill="#fe0000"/><circle cx="423.3" cy="223.1" r="1.2" fill="#fe0000"/><circle cx="425.7" cy="221.2" r="1.2" fill="#fe0000"/><circle cx="428.2" cy="219.3" r="1.2" fill="#fe0000"/><circle cx="430.7" cy="217.6" r="1.2" fill="#fe0000"/><circle cx="433.2" cy="215.9" r="1.2" fill="#fe0000"/><circle cx="435.8" cy="214.2" r="1.2" fill="#fe0000"/><circle cx="438.5" cy="212.7" r="1.2" fill="#fe0000"/><circle cx="441.2" cy="211.2" r="1.2" fill="#fe0000"/><circle cx="443.9" cy="209.7" r="1.2" fill="#fe0000"/><circle cx="446.6" cy="208.3" r="1.2" fill="#fe0000"/><circle cx="449.3" cy="206.9" r="1.2" fill="#fe0000"/><circle cx="452.1" cy="205.5" r="1.2" fill="#fe0000"/><circle cx="454.8" cy="204.1" r="1.2" fill="#fe0000"/><circle cx="457.5" cy="202.6" r="1.2" fill="#fe0000"/><circle cx="460.1" cy="200.9" r="1.2" fill="#fe0000"/><circle cx="462.6" cy="199.2" r="1.2" fill="#fe0000"/><circle cx="465.0" cy="197.3" r="1.2" fill="#fe0000"/><circle cx="467.5" cy="195.3" r="1.2" fill="#fe0000"/><circle cx="469.8" cy="193.3" r="1.2" fill="#fe0000"/><circle cx="472.0" cy="191.3" r="1.2" fill="#fe0000"/><circle cx="474.2" cy="189.1" r="1.2" fill="#fe0000"/><circle cx="476.3" cy="186.8" r="1.2" fill="#fe0000"/><circle cx="478.1" cy="184.3" r="1.2" fill="#fe0000"/><circle cx="479.9" cy="181.7" r="1.2" fill="#fe0000"/><circle cx="481.5" cy="179.1" r="1.2" fill="#fe0000"/><circle cx="482.9" cy="176.4" r="1.2" fill="#fe0000"/><circle cx="484.4" cy="173.6" r="1.2" fill="#fe0000"/><circle cx="485.7" cy="170.7" r="1.2" fill="#fe0000"/><circle cx="486.8" cy="167.9" r="1.2" fill="#fe0000"/><circle cx="487.9" cy="164.9" r="1.2" fill="#fe0000"/><circle cx="488.8" cy="161.9" r="1.2" fill="#fe0000"/><circle cx="489.6" cy="158.9" r="1.2" fill="#fe0000"/><circle cx="490.4" cy="155.8" r="1.2" fill="#fe0000"/><circle cx="491.1" cy="152.7" r="1.2" fill="#fe0000"/>
<path d="M394.9 151.0 l1.62 3.00 h-3.25 z" fill="#000"/><path d="M394.9 156.4 l1.62 3.00 h-3.25 z" fill="#000"/><path d="M395.0 161.5 l1.62 3.00 h-3.25 z" fill="#000"/><path d="M395.1 165.7 l1.62 3.00 h-3.25 z" fill="#000"/><path d="M395.2 169.0 l1.62 3.00 h-3.25 z" fill="#000"/><path d="M395.4 172.3 l1.62 3.00 h-3.25 z" fill="#000"/><path d="M395.7 175.3 l1.62 3.00 h-3.25 z" fill="#000"/><path d="M396.2 178.6 l1.62 3.00 h-3.25 z" fill="#000"/><path d="M396.8 181.6 l1.62 3.00 h-3.25 z" fill="#000"/><path d="M397.5 184.7 l1.62 3.00 h-3.25 z" fill="#000"/><path d="M398.4 187.7 l1.62 3.00 h-3.25 z" fill="#000"/><path d="M399.6 190.6 l1.62 3.00 h-3.25 z" fill="#000"/><path d="M400.9 193.5 l1.62 3.00 h-3.25 z" fill="#000"/><path d="M402.4 196.2 l1.62 3.00 h-3.25 z" fill="#000"/><path d="M404.2 198.7 l1.62 3.00 h-3.25 z" fill="#000"/><path d="M406.1 201.1 l1.62 3.00 h-3.25 z" fill="#000"/><path d="M408.1 203.4 l1.62 3.00 h-3.25 z" fill="#000"/><path d="M410.2 205.7 l1.62 3.00 h-3.25 z" fill="#000"/><path d="M412.4 207.9 l1.62 3.00 h-3.25 z" fill="#000"/><path d="M414.6 210.0 l1.62 3.00 h-3.25 z" fill="#000"/><path d="M416.8 212.0 l1.62 3.00 h-3.25 z" fill="#000"/><path d="M419.1 214.1 l1.62 3.00 h-3.25 z" fill="#000"/><path d="M421.5 216.1 l1.62 3.00 h-3.25 z" fill="#000"/><path d="M423.9 218.1 l1.62 3.00 h-3.25 z" fill="#000"/><path d="M426.3 220.0 l1.62 3.00 h-3.25 z" fill="#000"/><path d="M428.8 221.8 l1.62 3.00 h-3.25 z" fill="#000"/><path d="M431.3 223.6 l1.62 3.00 h-3.25 z" fill="#000"/><path d="M433.8 225.3 l1.62 3.00 h-3.25 z" fill="#000"/><path d="M436.4 227.1 l1.62 3.00 h-3.25 z" fill="#000"/><path d="M439.0 228.7 l1.62 3.00 h-3.25 z" fill="#000"/><path d="M441.6 230.4 l1.62 3.00 h-3.25 z" fill="#000"/><path d="M444.2 232.0 l1.62 3.00 h-3.25 z" fill="#000"/><path d="M446.9 233.5 l1.62 3.00 h-3.25 z" fill="#000"/><path d="M449.5 235.1 l1.62 3.00 h-3.25 z" fill="#000"/><path d="M452.2 236.6 l1.62 3.00 h-3.25 z" fill="#000"/><path d="M454.9 238.1 l1.62 3.00 h-3.25 z" fill="#000"/><path d="M457.5 239.7 l1.62 3.00 h-3.25 z" fill="#000"/><path d="M460.2 241.2 l1.62 3.00 h-3.25 z" fill="#000"/><path d="M462.8 242.8 l1.62 3.00 h-3.25 z" fill="#000"/><path d="M465.5 244.4 l1.62 3.00 h-3.25 z" fill="#000"/><path d="M468.1 245.9 l1.62 3.00 h-3.25 z" fill="#000"/><path d="M470.8 247.4 l1.62 3.00 h-3.25 z" fill="#000"/><path d="M473.6 248.8 l1.62 3.00 h-3.25 z" fill="#000"/><path d="M476.3 250.2 l1.62 3.00 h-3.25 z" fill="#000"/><path d="M479.1 251.5 l1.62 3.00 h-3.25 z" fill="#000"/><path d="M481.9 252.9 l1.62 3.00 h-3.25 z" fill="#000"/><path d="M484.6 254.3 l1.62 3.00 h-3.25 z" fill="#000"/><path d="M487.3 255.7 l1.62 3.00 h-3.25 z" fill="#000"/><path d="M490.0 257.2 l1.62 3.00 h-3.25 z" fill="#000"/><path d="M492.7 258.8 l1.62 3.00 h-3.25 z" fill="#000"/>
<path d="M394.9 257.2 l1.62 3.00 h-3.25 z" fill="#000"/><path d="M396.3 254.6 l1.62 3.00 h-3.25 z" fill="#000"/><path d="M397.7 251.8 l1.62 3.00 h-3.25 z" fill="#000"/><path d="M399.1 249.0 l1.62 3.00 h-3.25 z" fill="#000"/><path d="M400.7 246.4 l1.62 3.00 h-3.25 z" fill="#000"/><path d="M402.4 243.8 l1.62 3.00 h-3.25 z" fill="#000"/><path d="M404.2 241.3 l1.62 3.00 h-3.25 z" fill="#000"/><path d="M406.1 238.8 l1.62 3.00 h-3.25 z" fill="#000"/><path d="M408.1 236.4 l1.62 3.00 h-3.25 z" fill="#000"/><path d="M410.1 234.1 l1.62 3.00 h-3.25 z" fill="#000"/><path d="M412.2 231.8 l1.62 3.00 h-3.25 z" fill="#000"/><path d="M414.3 229.6 l1.62 3.00 h-3.25 z" fill="#000"/><path d="M416.5 227.4 l1.62 3.00 h-3.25 z" fill="#000"/><path d="M418.8 225.3 l1.62 3.00 h-3.25 z" fill="#000"/><path d="M421.1 223.3 l1.62 3.00 h-3.25 z" fill="#000"/><path d="M423.5 221.3 l1.62 3.00 h-3.25 z" fill="#000"/><path d="M425.9 219.4 l1.62 3.00 h-3.25 z" fill="#000"/><path d="M428.4 217.6 l1.62 3.00 h-3.25 z" fill="#000"/><path d="M431.0 215.9 l1.62 3.00 h-3.25 z" fill="#000"/><path d="M433.6 214.3 l1.62 3.00 h-3.25 z" fill="#000"/><path d="M436.3 212.7 l1.62 3.00 h-3.25 z" fill="#000"/><path d="M439.0 211.3 l1.62 3.00 h-3.25 z" fill="#000"/><path d="M441.8 209.9 l1.62 3.00 h-3.25 z" fill="#000"/><path d="M444.6 208.7 l1.62 3.00 h-3.25 z" fill="#000"/><path d="M447.4 207.5 l1.62 3.00 h-3.25 z" fill="#000"/><path d="M450.3 206.4 l1.62 3.00 h-3.25 z" fill="#000"/><path d="M453.2 205.3 l1.62 3.00 h-3.25 z" fill="#000"/><path d="M456.1 204.1 l1.62 3.00 h-3.25 z" fill="#000"/><path d="M458.9 202.8 l1.62 3.00 h-3.25 z" fill="#000"/><path d="M461.6 201.3 l1.62 3.00 h-3.25 z" fill="#000"/><path d="M464.2 199.7 l1.62 3.00 h-3.25 z" fill="#000"/><path d="M466.8 198.1 l1.62 3.00 h-3.25 z" fill="#000"/><path d="M469.4 196.4 l1.62 3.00 h-3.25 z" fill="#000"/><path d="M471.9 194.7 l1.62 3.00 h-3.25 z" fill="#000"/><path d="M474.4 192.9 l1.62 3.00 h-3.25 z" fill="#000"/><path d="M476.8 191.0 l1.62 3.00 h-3.25 z" fill="#000"/><path d="M479.2 189.0 l1.62 3.00 h-3.25 z" fill="#000"/><path d="M481.3 186.8 l1.62 3.00 h-3.25 z" fill="#000"/><path d="M483.4 184.5 l1.62 3.00 h-3.25 z" fill="#000"/><path d="M485.3 182.0 l1.62 3.00 h-3.25 z" fill="#000"/><path d="M487.1 179.5 l1.62 3.00 h-3.25 z" fill="#000"/><path d="M488.9 177.0 l1.62 3.00 h-3.25 z" fill="#000"/><path d="M490.5 174.3 l1.62 3.00 h-3.25 z" fill="#000"/><path d="M492.0 171.6 l1.62 3.00 h-3.25 z" fill="#000"/><path d="M493.3 168.8 l1.62 3.00 h-3.25 z" fill="#000"/><path d="M494.4 165.8 l1.62 3.00 h-3.25 z" fill="#000"/><path d="M495.4 162.7 l1.62 3.00 h-3.25 z" fill="#000"/><path d="M496.3 159.7 l1.62 3.00 h-3.25 z" fill="#000"/><path d="M497.2 156.6 l1.62 3.00 h-3.25 z" fill="#000"/><path d="M498.0 153.6 l1.62 3.00 h-3.25 z" fill="#000"/>
<line x1="407" y1="163" x2="420.3" y2="163" stroke="#000" stroke-width="0.6"/><path d="M413.6 161.2 l1.6 3 h-3.2 z" fill="#000"/>
<line x1="407" y1="172.8" x2="420.3" y2="172.8" stroke="#fdd" stroke-width="0.6"/><circle cx="413.6" cy="172.8" r="1.2" fill="#fe0000"/>
<text x="422.4" y="165.8" font-size="7.15" font-weight="bold">Rutile TiO<tspan dy="2" font-size="4.6">2</tspan><tspan dy="-2">-FGS</tspan></text>
<text x="422.4" y="175.6" font-size="7.15" font-weight="bold">Rutile TiO<tspan dy="2" font-size="4.6">2</tspan></text>
<g clip-path="url(#clipG)"><rect x="3" y="296.4" width="116.5" height="112.3" fill="#626262"/>
<g filter="url(#blurG2)"><ellipse cx="112" cy="304" rx="9" ry="8" fill="#4c4c4c"/><ellipse cx="8" cy="345" rx="7" ry="11" fill="#505050"/><ellipse cx="42" cy="388" rx="8" ry="5" fill="#505050"/><ellipse cx="90" cy="368" rx="6" ry="9" fill="#515151"/><ellipse cx="70" cy="340" rx="6" ry="6" fill="#555"/><rect x="3" y="396" width="117" height="13" fill="#6a6a6a"/></g>
<g filter="url(#blurG)" fill="none" stroke-linecap="round" stroke-linejoin="round">
<path d="M3.0 306.0 C4.8 307.0 10.5 309.3 14.0 312.0 C17.5 314.7 21.3 318.0 24.0 322.0 C26.7 326.0 29.0 333.7 30.0 336.0" stroke="#959595" stroke-width="8"/><path d="M3.0 306.0 C4.8 307.0 10.5 309.3 14.0 312.0 C17.5 314.7 21.3 318.0 24.0 322.0 C26.7 326.0 29.0 333.7 30.0 336.0" stroke="#858585" stroke-width="4.5"/>
<path d="M12.0 338.0 C13.2 340.0 18.0 345.7 19.0 350.0 C20.0 354.3 17.0 359.0 18.0 364.0 C19.0 369.0 23.8 377.3 25.0 380.0" stroke="#959595" stroke-width="8"/><path d="M12.0 338.0 C13.2 340.0 18.0 345.7 19.0 350.0 C20.0 354.3 17.0 359.0 18.0 364.0 C19.0 369.0 23.8 377.3 25.0 380.0" stroke="#858585" stroke-width="4.5"/>
<path d="M70.0 300.0 C72.0 301.3 77.3 305.7 82.0 308.0 C86.7 310.3 92.0 312.3 98.0 314.0 C104.0 315.7 114.7 317.3 118.0 318.0" stroke="#959595" stroke-width="8"/><path d="M70.0 300.0 C72.0 301.3 77.3 305.7 82.0 308.0 C86.7 310.3 92.0 312.3 98.0 314.0 C104.0 315.7 114.7 317.3 118.0 318.0" stroke="#858585" stroke-width="4.5"/>
<path d="M40.0 346.0 C42.5 346.8 50.0 350.5 55.0 351.0 C60.0 351.5 64.8 351.2 70.0 349.0 C75.2 346.8 83.3 339.8 86.0 338.0" stroke="#959595" stroke-width="8"/><path d="M40.0 346.0 C42.5 346.8 50.0 350.5 55.0 351.0 C60.0 351.5 64.8 351.2 70.0 349.0 C75.2 346.8 83.3 339.8 86.0 338.0" stroke="#858585" stroke-width="4.5"/>
<path d="M96.0 352.0 C96.7 354.0 97.7 360.3 100.0 364.0 C102.3 367.7 106.8 371.3 110.0 374.0 C113.2 376.7 117.5 379.0 119.0 380.0" stroke="#959595" stroke-width="8"/><path d="M96.0 352.0 C96.7 354.0 97.7 360.3 100.0 364.0 C102.3 367.7 106.8 371.3 110.0 374.0 C113.2 376.7 117.5 379.0 119.0 380.0" stroke="#858585" stroke-width="4.5"/>
<path d="M3.0 398.0 C5.8 398.3 13.8 399.5 20.0 400.0 C26.2 400.5 33.3 400.2 40.0 401.0 C46.7 401.8 56.7 404.3 60.0 405.0" stroke="#959595" stroke-width="8"/><path d="M3.0 398.0 C5.8 398.3 13.8 399.5 20.0 400.0 C26.2 400.5 33.3 400.2 40.0 401.0 C46.7 401.8 56.7 404.3 60.0 405.0" stroke="#858585" stroke-width="4.5"/>
<path d="M75.0 388.0 C76.8 389.0 82.5 392.3 86.0 394.0 C89.5 395.7 92.3 396.2 96.0 398.0 C99.7 399.8 106.0 403.8 108.0 405.0" stroke="#959595" stroke-width="8"/><path d="M75.0 388.0 C76.8 389.0 82.5 392.3 86.0 394.0 C89.5 395.7 92.3 396.2 96.0 398.0 C99.7 399.8 106.0 403.8 108.0 405.0" stroke="#858585" stroke-width="4.5"/>
<path d="M36.0 300.0 C35.0 301.7 32.7 307.0 30.0 310.0 C27.3 313.0 23.7 316.0 20.0 318.0 C16.3 320.0 10.0 321.3 8.0 322.0" stroke="#959595" stroke-width="8"/><path d="M36.0 300.0 C35.0 301.7 32.7 307.0 30.0 310.0 C27.3 313.0 23.7 316.0 20.0 318.0 C16.3 320.0 10.0 321.3 8.0 322.0" stroke="#858585" stroke-width="4.5"/>
<path d="M101.0 330.0 C101.7 332.5 105.0 340.0 105.0 345.0 C105.0 350.0 100.5 355.5 101.0 360.0 C101.5 364.5 106.8 370.0 108.0 372.0" stroke="#959595" stroke-width="8"/><path d="M101.0 330.0 C101.7 332.5 105.0 340.0 105.0 345.0 C105.0 350.0 100.5 355.5 101.0 360.0 C101.5 364.5 106.8 370.0 108.0 372.0" stroke="#858585" stroke-width="4.5"/>
<path d="M30.0 300.0 C32.5 300.0 40.8 300.2 45.0 300.0 C49.2 299.8 53.3 299.2 55.0 299.0" stroke="#959595" stroke-width="8"/><path d="M30.0 300.0 C32.5 300.0 40.8 300.2 45.0 300.0 C49.2 299.8 53.3 299.2 55.0 299.0" stroke="#858585" stroke-width="4.5"/>
<path d="M25.0 392.0 C27.5 393.0 33.8 397.0 40.0 398.0 C46.2 399.0 58.3 398.0 62.0 398.0" stroke="#959595" stroke-width="8"/><path d="M25.0 392.0 C27.5 393.0 33.8 397.0 40.0 398.0 C46.2 399.0 58.3 398.0 62.0 398.0" stroke="#858585" stroke-width="4.5"/>
<path d="M76.0 392.0 C78.3 391.7 85.3 389.3 90.0 390.0 C94.7 390.7 99.3 394.7 104.0 396.0 C108.7 397.3 115.7 397.7 118.0 398.0" stroke="#959595" stroke-width="8"/><path d="M76.0 392.0 C78.3 391.7 85.3 389.3 90.0 390.0 C94.7 390.7 99.3 394.7 104.0 396.0 C108.7 397.3 115.7 397.7 118.0 398.0" stroke="#858585" stroke-width="4.5"/>
<path d="M5.0 355.0 C5.8 357.5 10.0 364.2 10.0 370.0 C10.0 375.8 5.8 386.7 5.0 390.0" stroke="#959595" stroke-width="8"/><path d="M5.0 355.0 C5.8 357.5 10.0 364.2 10.0 370.0 C10.0 375.8 5.8 386.7 5.0 390.0" stroke="#858585" stroke-width="4.5"/>
<path d="M2.8 320.0 C4.2 320.5 8.4 322.6 11.2 322.8 C14.0 323.0 18.2 321.6 19.6 321.4" stroke="#b6b6b6" stroke-width="8.2"/><path d="M2.8 320.0 C4.2 320.5 8.4 322.6 11.2 322.8 C14.0 323.0 18.2 321.6 19.6 321.4" stroke="#a0a0a0" stroke-width="4.6"/>
<path d="M28.0 342.5 C29.9 343.4 35.5 347.1 39.3 348.0 C43.0 348.9 48.6 348.0 50.5 348.0" stroke="#b6b6b6" stroke-width="8.2"/><path d="M28.0 342.5 C29.9 343.4 35.5 347.1 39.3 348.0 C43.0 348.9 48.6 348.0 50.5 348.0" stroke="#a0a0a0" stroke-width="4.6"/>
<path d="M11.2 359.3 C13.1 359.1 18.6 357.9 22.4 357.9 C26.1 357.9 31.8 359.1 33.7 359.3" stroke="#b6b6b6" stroke-width="8.2"/><path d="M11.2 359.3 C13.1 359.1 18.6 357.9 22.4 357.9 C26.1 357.9 31.8 359.1 33.7 359.3" stroke="#a0a0a0" stroke-width="4.6"/>
<path d="M5.6 384.5 C7.5 384.0 13.1 381.7 16.8 381.7 C20.5 381.7 25.7 383.1 28.0 384.5 C30.3 385.9 30.3 389.2 30.8 390.2" stroke="#b6b6b6" stroke-width="8.2"/><path d="M5.6 384.5 C7.5 384.0 13.1 381.7 16.8 381.7 C20.5 381.7 25.7 383.1 28.0 384.5 C30.3 385.9 30.3 389.2 30.8 390.2" stroke="#a0a0a0" stroke-width="4.6"/>
<path d="M67.3 370.5 C67.8 372.4 68.2 378.9 70.1 381.7 C72.0 384.5 77.1 386.4 78.5 387.4" stroke="#b6b6b6" stroke-width="8.2"/><path d="M67.3 370.5 C67.8 372.4 68.2 378.9 70.1 381.7 C72.0 384.5 77.1 386.4 78.5 387.4" stroke="#a0a0a0" stroke-width="4.6"/>
<path d="M95.3 362.1 C97.2 363.5 102.8 368.6 106.6 370.5 C110.3 372.4 115.9 372.8 117.8 373.3" stroke="#b6b6b6" stroke-width="8.2"/><path d="M95.3 362.1 C97.2 363.5 102.8 368.6 106.6 370.5 C110.3 372.4 115.9 372.8 117.8 373.3" stroke="#a0a0a0" stroke-width="4.6"/>
<path d="M64.5 325.6 C66.8 326.6 73.8 329.9 78.5 331.3 C83.2 332.7 88.3 334.0 92.5 334.0 C96.7 334.0 101.9 331.8 103.8 331.3" stroke="#b6b6b6" stroke-width="8.2"/><path d="M64.5 325.6 C66.8 326.6 73.8 329.9 78.5 331.3 C83.2 332.7 88.3 334.0 92.5 334.0 C96.7 334.0 101.9 331.8 103.8 331.3" stroke="#a0a0a0" stroke-width="4.6"/>
<path d="M81.3 317.2 C83.2 318.1 89.2 320.9 92.5 322.8 C95.8 324.7 99.6 327.6 101.0 328.5" stroke="#b6b6b6" stroke-width="8.2"/><path d="M81.3 317.2 C83.2 318.1 89.2 320.9 92.5 322.8 C95.8 324.7 99.6 327.6 101.0 328.5" stroke="#a0a0a0" stroke-width="4.6"/>
<path d="M30.8 303.2 C32.7 304.1 38.2 307.4 42.0 308.8 C45.8 310.2 50.2 311.8 53.3 311.6 C56.3 311.4 59.1 308.1 60.3 307.4" stroke="#cdcdcd" stroke-width="8.8"/><path d="M30.8 303.2 C32.7 304.1 38.2 307.4 42.0 308.8 C45.8 310.2 50.2 311.8 53.3 311.6 C56.3 311.4 59.1 308.1 60.3 307.4" stroke="#aeaeae" stroke-width="5"/>
<path d="M60.3 297.0 C60.3 298.7 59.6 304.5 60.3 307.4 C61.0 310.3 63.8 313.2 64.5 314.4" stroke="#cdcdcd" stroke-width="8.8"/><path d="M60.3 297.0 C60.3 298.7 59.6 304.5 60.3 307.4 C61.0 310.3 63.8 313.2 64.5 314.4" stroke="#aeaeae" stroke-width="5"/>
<path d="M92.5 298.0 C93.0 300.3 93.4 307.5 95.3 311.6 C97.2 315.7 101.0 319.1 103.8 322.8 C106.6 326.5 110.3 330.2 112.2 334.0 C114.1 337.8 114.5 343.4 115.0 345.3" stroke="#cdcdcd" stroke-width="8.8"/><path d="M92.5 298.0 C93.0 300.3 93.4 307.5 95.3 311.6 C97.2 315.7 101.0 319.1 103.8 322.8 C106.6 326.5 110.3 330.2 112.2 334.0 C114.1 337.8 114.5 343.4 115.0 345.3" stroke="#aeaeae" stroke-width="5"/>
<path d="M14.0 328.5 C15.9 329.0 21.4 330.4 25.2 331.3 C28.9 332.2 33.2 332.6 36.5 334.0 C39.8 335.4 43.5 338.8 44.9 339.7" stroke="#cdcdcd" stroke-width="8.8"/><path d="M14.0 328.5 C15.9 329.0 21.4 330.4 25.2 331.3 C28.9 332.2 33.2 332.6 36.5 334.0 C39.8 335.4 43.5 338.8 44.9 339.7" stroke="#aeaeae" stroke-width="5"/>
<path d="M81.3 342.5 C83.6 343.4 90.6 346.6 95.3 348.0 C100.0 349.4 105.7 350.9 109.4 350.9 C113.2 350.9 116.4 348.5 117.8 348.0" stroke="#cdcdcd" stroke-width="8.8"/><path d="M81.3 342.5 C83.6 343.4 90.6 346.6 95.3 348.0 C100.0 349.4 105.7 350.9 109.4 350.9 C113.2 350.9 116.4 348.5 117.8 348.0" stroke="#aeaeae" stroke-width="5"/>
<path d="M8.4 376.1 C10.7 374.7 17.2 370.5 22.4 367.7 C27.5 364.9 34.4 361.9 39.3 359.3 C44.2 356.7 49.8 353.5 51.9 352.3" stroke="#cdcdcd" stroke-width="8.8"/><path d="M8.4 376.1 C10.7 374.7 17.2 370.5 22.4 367.7 C27.5 364.9 34.4 361.9 39.3 359.3 C44.2 356.7 49.8 353.5 51.9 352.3" stroke="#aeaeae" stroke-width="5"/>
<path d="M60.3 359.3 C60.1 361.6 59.8 369.1 58.9 373.3 C58.0 377.5 56.1 381.7 54.7 384.5 C53.3 387.3 51.2 389.2 50.5 390.2" stroke="#cdcdcd" stroke-width="8.8"/><path d="M60.3 359.3 C60.1 361.6 59.8 369.1 58.9 373.3 C58.0 377.5 56.1 381.7 54.7 384.5 C53.3 387.3 51.2 389.2 50.5 390.2" stroke="#aeaeae" stroke-width="5"/>
<path d="M84.1 373.3 C86.4 374.2 93.4 377.5 98.1 378.9 C102.8 380.3 108.5 382.2 112.2 381.7 C116.0 381.2 119.2 377.0 120.6 376.1" stroke="#cdcdcd" stroke-width="8.8"/><path d="M84.1 373.3 C86.4 374.2 93.4 377.5 98.1 378.9 C102.8 380.3 108.5 382.2 112.2 381.7 C116.0 381.2 119.2 377.0 120.6 376.1" stroke="#aeaeae" stroke-width="5"/>
<path d="M75.7 297.0 C75.0 299.4 74.1 307.1 71.5 311.6 C68.9 316.1 63.6 320.5 60.3 324.2 C57.0 327.9 53.3 330.0 51.9 334.0 C50.5 338.0 50.5 344.0 51.9 348.0 C53.3 352.0 56.8 355.5 60.3 357.9 C63.8 360.2 69.2 360.7 72.9 362.1 C76.6 363.5 81.1 365.6 82.7 366.3" stroke="#cdcdcd" stroke-width="8.8"/><path d="M75.7 297.0 C75.0 299.4 74.1 307.1 71.5 311.6 C68.9 316.1 63.6 320.5 60.3 324.2 C57.0 327.9 53.3 330.0 51.9 334.0 C50.5 338.0 50.5 344.0 51.9 348.0 C53.3 352.0 56.8 355.5 60.3 357.9 C63.8 360.2 69.2 360.7 72.9 362.1 C76.6 363.5 81.1 365.6 82.7 366.3" stroke="#aeaeae" stroke-width="5"/>
</g></g>
<text x="100.3" y="401.7" font-size="7.8" font-weight="bold" text-anchor="middle" fill="#111" >100nm</text>
<rect x="98.4" y="404.4" width="8" height="1.6" fill="#000"/>
<rect x="3" y="296.4" width="26.9" height="21.2" fill="#fe0000"/>
<text x="16.4" y="313.2" font-size="20.5" text-anchor="middle" fill="#fff" font-weight="normal">(g)</text>
<g clip-path="url(#clipH)"><rect x="189" y="296" width="116" height="112.8" fill="#b9b9b9"/>
<g filter="url(#blurH)">
<path d="M189 296 L219 296 L226 322 L189 340 Z" fill="#a3a3a3"/>
<path d="M189 340 L226 322 L232 340 L189 360 Z" fill="#adadad"/>
<path d="M269 296 L305 296 L305 409 L298 409 L293 366 Z" fill="#c0c0c0"/>
<path d="M277 296 L305 296 L305 329 Z" fill="#c6c6c6"/>
<path d="M250 372 L293 364 L296 387 L300 409 L259 409 L256 387 Z" fill="#8e8e8e"/>
<path d="M255 374 L291 366 L294 387 L297.5 409 L262.5 409 L259.5 387 Z" fill="#aeaeae"/>
<path d="M256 374 L291 366 L292.5 378 L258 383 Z" fill="#c2c2c2"/>
<path d="M218.6 296 L269.1 296 L293.4 366.3 C287 368 276 370 266.3 372 C262 374 258 376.4 254.5 376.3 C250 376 247 374.5 244.8 373.3 Z" fill="#494949"/>
<path d="M224.5 296 L263.5 296 L286.5 364 C278 367 268 369.5 260 371.5 C256 372.5 252 372 249.5 369.5 Z" fill="#626262"/>
<path d="M233 296 L255 296 L276 360 C268 364 262 366 256 366 Z" fill="#686868"/>
</g>
<rect x="189" y="296" width="116" height="112.8" fill="#000" filter="url(#grainH)" opacity="0.3"/>
<rect x="189" y="363.5" width="46.5" height="46" fill="#7a7a7a" filter="url(#texH)"/>
<path d="M192 363.5 L203 363.5 L217 409 L204 409 Z" fill="#d0d0d0" opacity="0.45" filter="url(#blurH)"/>
<path d="M201 368 L203.5 396" stroke="#eee" stroke-width="1.6" opacity="0.7" filter="url(#blurH)"/>
<rect x="203" y="363.5" width="32.5" height="6" fill="#555" opacity="0.5" filter="url(#blurH)"/>
</g>
<text x="203.0" y="374.4" font-size="7.2" font-weight="bold" text-anchor="start" fill="#fff" >CNT[002]</text>
<text x="207.5" y="384.6" font-size="7.6" font-weight="bold" text-anchor="start" fill="#3a3a3a" >0.34nm</text>
<path d="M191 378 L197.5 378 M203.5 380 L198.5 378.6" stroke="#000" stroke-width="0.9" fill="none"/><path d="M198.6 378 l-2.6 -1.4 v2.8z" fill="#000"/>
<text x="192.5" y="401.2" font-size="8.5" font-weight="bold" text-anchor="start" fill="#111" >5nm</text>
<rect x="190.2" y="403.2" width="24.2" height="2" fill="#000"/>
<text x="285.6" y="400.8" font-size="8.9" font-weight="bold" text-anchor="middle" fill="#111" >100nm</text>
<rect x="269" y="403" width="33.2" height="2" fill="#000"/>
<text x="289.4" y="378.8" font-size="7.4" font-weight="bold" text-anchor="start" fill="#fff" >CNT</text>
<path d="M292.5 380 L288.8 383" stroke="#000" stroke-width="0.8"/><path d="M287.8 383.8 l3.2 -0.8 l-1.6 -1.9z" fill="#000"/>
<text x="289" y="346.4" font-size="7" font-weight="bold" fill="#111">TiO<tspan font-size="5.4">2</tspan></text>
<path d="M293.4 348.4 L289.6 351" stroke="#000" stroke-width="0.8"/><path d="M288.6 351.8 l3.2 -0.8 l-1.6 -1.9z" fill="#000"/>
<rect x="189.1" y="296.1" width="27.6" height="21.2" fill="#fe0000"/>
<text x="202.9" y="312.9" font-size="20.5" text-anchor="middle" fill="#fff" font-weight="normal">(h)</text>
<rect x="321" y="295.2" width="25.8" height="20.5" fill="#fe0000"/>
<text x="333.9" y="311.3" font-size="20.5" text-anchor="middle" fill="#fff" font-weight="normal">(i)</text>
<rect x="381.1" y="295.9" width="139.7" height="110.3" fill="#ff6c00"/>
<path d="M381.1 364.7 L405.0 365.3 L427.0 366.3 L445.0 367.9 L465.8 371.0 L476.0 372.8 L485.0 374.8 L492.0 377.0 L500.0 379.6 L508.0 382.4 L514.0 384.6 L517.0 385.8 L520.8 388.0 L520.8 406.2 L381.1 406.2 Z" fill="#0c2090"/>
<rect x="381.1" y="295.9" width="139.7" height="110.3" fill="none" stroke="#000" stroke-width="1.2"/>
<line x1="378.1" y1="398.3" x2="381.1" y2="398.3" stroke="#000" stroke-width="1"/>
<text x="377.3" y="401.2" font-size="8" font-weight="normal" text-anchor="end" fill="#000" >0</text>
<line x1="378.1" y1="377.2" x2="381.1" y2="377.2" stroke="#000" stroke-width="1"/>
<text x="377.3" y="380.1" font-size="8" font-weight="normal" text-anchor="end" fill="#000" >200</text>
<line x1="378.1" y1="356.1" x2="381.1" y2="356.1" stroke="#000" stroke-width="1"/>
<text x="377.3" y="359.0" font-size="8" font-weight="normal" text-anchor="end" fill="#000" >400</text>
<line x1="378.1" y1="335.0" x2="381.1" y2="335.0" stroke="#000" stroke-width="1"/>
<text x="377.3" y="337.9" font-size="8" font-weight="normal" text-anchor="end" fill="#000" >600</text>
<line x1="378.1" y1="313.9" x2="381.1" y2="313.9" stroke="#000" stroke-width="1"/>
<text x="377.3" y="316.8" font-size="8" font-weight="normal" text-anchor="end" fill="#000" >800</text>
<line x1="379.5" y1="402.5" x2="381.1" y2="402.5" stroke="#000" stroke-width="0.7"/>
<line x1="379.5" y1="394.1" x2="381.1" y2="394.1" stroke="#000" stroke-width="0.7"/>
<line x1="379.5" y1="389.9" x2="381.1" y2="389.9" stroke="#000" stroke-width="0.7"/>
<line x1="379.5" y1="385.6" x2="381.1" y2="385.6" stroke="#000" stroke-width="0.7"/>
<line x1="379.5" y1="381.4" x2="381.1" y2="381.4" stroke="#000" stroke-width="0.7"/>
<line x1="379.5" y1="373.0" x2="381.1" y2="373.0" stroke="#000" stroke-width="0.7"/>
<line x1="379.5" y1="368.8" x2="381.1" y2="368.8" stroke="#000" stroke-width="0.7"/>
<line x1="379.5" y1="364.5" x2="381.1" y2="364.5" stroke="#000" stroke-width="0.7"/>
<line x1="379.5" y1="360.3" x2="381.1" y2="360.3" stroke="#000" stroke-width="0.7"/>
<line x1="379.5" y1="351.9" x2="381.1" y2="351.9" stroke="#000" stroke-width="0.7"/>
<line x1="379.5" y1="347.7" x2="381.1" y2="347.7" stroke="#000" stroke-width="0.7"/>
<line x1="379.5" y1="343.4" x2="381.1" y2="343.4" stroke="#000" stroke-width="0.7"/>
<line x1="379.5" y1="339.2" x2="381.1" y2="339.2" stroke="#000" stroke-width="0.7"/>
<line x1="379.5" y1="330.8" x2="381.1" y2="330.8" stroke="#000" stroke-width="0.7"/>
<line x1="379.5" y1="326.6" x2="381.1" y2="326.6" stroke="#000" stroke-width="0.7"/>
<line x1="379.5" y1="322.3" x2="381.1" y2="322.3" stroke="#000" stroke-width="0.7"/>
<line x1="379.5" y1="318.1" x2="381.1" y2="318.1" stroke="#000" stroke-width="0.7"/>
<line x1="379.5" y1="309.7" x2="381.1" y2="309.7" stroke="#000" stroke-width="0.7"/>
<line x1="379.5" y1="305.5" x2="381.1" y2="305.5" stroke="#000" stroke-width="0.7"/>
<line x1="379.5" y1="301.2" x2="381.1" y2="301.2" stroke="#000" stroke-width="0.7"/>
<line x1="379.5" y1="297.0" x2="381.1" y2="297.0" stroke="#000" stroke-width="0.7"/>
<line x1="520.8" y1="406.2" x2="523.8" y2="406.2" stroke="#000" stroke-width="1"/>
<text x="526.4" y="408.4" font-size="8" font-weight="normal" text-anchor="start" fill="#000" >0</text>
<line x1="520.8" y1="395.2" x2="522.4" y2="395.2" stroke="#000" stroke-width="0.7"/>
<line x1="520.8" y1="384.1" x2="523.8" y2="384.1" stroke="#000" stroke-width="1"/>
<text x="526.4" y="386.3" font-size="8" font-weight="normal" text-anchor="start" fill="#000" >20</text>
<line x1="520.8" y1="373.1" x2="522.4" y2="373.1" stroke="#000" stroke-width="0.7"/>
<line x1="520.8" y1="362.1" x2="523.8" y2="362.1" stroke="#000" stroke-width="1"/>
<text x="526.4" y="364.3" font-size="8" font-weight="normal" text-anchor="start" fill="#000" >40</text>
<line x1="520.8" y1="351.0" x2="522.4" y2="351.0" stroke="#000" stroke-width="0.7"/>
<line x1="520.8" y1="340.0" x2="523.8" y2="340.0" stroke="#000" stroke-width="1"/>
<text x="526.4" y="342.2" font-size="8" font-weight="normal" text-anchor="start" fill="#000" >60</text>
<line x1="520.8" y1="329.0" x2="522.4" y2="329.0" stroke="#000" stroke-width="0.7"/>
<line x1="520.8" y1="318.0" x2="523.8" y2="318.0" stroke="#000" stroke-width="1"/>
<text x="526.4" y="320.2" font-size="8" font-weight="normal" text-anchor="start" fill="#000" >80</text>
<line x1="520.8" y1="306.9" x2="522.4" y2="306.9" stroke="#000" stroke-width="0.7"/>
<line x1="520.8" y1="295.9" x2="523.8" y2="295.9" stroke="#000" stroke-width="1"/>
<text x="526.4" y="298.1" font-size="8" font-weight="normal" text-anchor="start" fill="#000" >100</text>
<line x1="388.1" y1="406.2" x2="388.1" y2="407.8" stroke="#000" stroke-width="0.7"/>
<line x1="388.1" y1="295.9" x2="388.1" y2="297.17999999999995" stroke="#000" stroke-width="0.6"/>
<line x1="393.2" y1="406.2" x2="393.2" y2="407.8" stroke="#000" stroke-width="0.7"/>
<line x1="393.2" y1="295.9" x2="393.2" y2="297.17999999999995" stroke="#000" stroke-width="0.6"/>
<line x1="397.5" y1="406.2" x2="397.5" y2="407.8" stroke="#000" stroke-width="0.7"/>
<line x1="397.5" y1="295.9" x2="397.5" y2="297.17999999999995" stroke="#000" stroke-width="0.6"/>
<line x1="401.2" y1="406.2" x2="401.2" y2="407.8" stroke="#000" stroke-width="0.7"/>
<line x1="401.2" y1="295.9" x2="401.2" y2="297.17999999999995" stroke="#000" stroke-width="0.6"/>
<line x1="404.5" y1="406.2" x2="404.5" y2="407.8" stroke="#000" stroke-width="0.7"/>
<line x1="404.5" y1="295.9" x2="404.5" y2="297.17999999999995" stroke="#000" stroke-width="0.6"/>
<line x1="407.5" y1="406.2" x2="407.5" y2="409.2" stroke="#000" stroke-width="1"/>
<line x1="407.5" y1="295.9" x2="407.5" y2="298.29999999999995" stroke="#000" stroke-width="0.9"/>
<line x1="426.9" y1="406.2" x2="426.9" y2="407.8" stroke="#000" stroke-width="0.7"/>
<line x1="426.9" y1="295.9" x2="426.9" y2="297.17999999999995" stroke="#000" stroke-width="0.6"/>
<line x1="438.2" y1="406.2" x2="438.2" y2="407.8" stroke="#000" stroke-width="0.7"/>
<line x1="438.2" y1="295.9" x2="438.2" y2="297.17999999999995" stroke="#000" stroke-width="0.6"/>
<line x1="446.3" y1="406.2" x2="446.3" y2="407.8" stroke="#000" stroke-width="0.7"/>
<line x1="446.3" y1="295.9" x2="446.3" y2="297.17999999999995" stroke="#000" stroke-width="0.6"/>
<line x1="452.5" y1="406.2" x2="452.5" y2="407.8" stroke="#000" stroke-width="0.7"/>
<line x1="452.5" y1="295.9" x2="452.5" y2="297.17999999999995" stroke="#000" stroke-width="0.6"/>
<line x1="457.6" y1="406.2" x2="457.6" y2="407.8" stroke="#000" stroke-width="0.7"/>
<line x1="457.6" y1="295.9" x2="457.6" y2="297.17999999999995" stroke="#000" stroke-width="0.6"/>
<line x1="461.9" y1="406.2" x2="461.9" y2="407.8" stroke="#000" stroke-width="0.7"/>
<line x1="461.9" y1="295.9" x2="461.9" y2="297.17999999999995" stroke="#000" stroke-width="0.6"/>
<line x1="465.6" y1="406.2" x2="465.6" y2="407.8" stroke="#000" stroke-width="0.7"/>
<line x1="465.6" y1="295.9" x2="465.6" y2="297.17999999999995" stroke="#000" stroke-width="0.6"/>
<line x1="468.9" y1="406.2" x2="468.9" y2="407.8" stroke="#000" stroke-width="0.7"/>
<line x1="468.9" y1="295.9" x2="468.9" y2="297.17999999999995" stroke="#000" stroke-width="0.6"/>
<line x1="471.9" y1="406.2" x2="471.9" y2="409.2" stroke="#000" stroke-width="1"/>
<line x1="471.9" y1="295.9" x2="471.9" y2="298.29999999999995" stroke="#000" stroke-width="0.9"/>
<line x1="491.3" y1="406.2" x2="491.3" y2="407.8" stroke="#000" stroke-width="0.7"/>
<line x1="491.3" y1="295.9" x2="491.3" y2="297.17999999999995" stroke="#000" stroke-width="0.6"/>
<line x1="502.6" y1="406.2" x2="502.6" y2="407.8" stroke="#000" stroke-width="0.7"/>
<line x1="502.6" y1="295.9" x2="502.6" y2="297.17999999999995" stroke="#000" stroke-width="0.6"/>
<line x1="510.7" y1="406.2" x2="510.7" y2="407.8" stroke="#000" stroke-width="0.7"/>
<line x1="510.7" y1="295.9" x2="510.7" y2="297.17999999999995" stroke="#000" stroke-width="0.6"/>
<line x1="516.9" y1="406.2" x2="516.9" y2="407.8" stroke="#000" stroke-width="0.7"/>
<line x1="516.9" y1="295.9" x2="516.9" y2="297.17999999999995" stroke="#000" stroke-width="0.6"/>
<text x="406.7" y="415.7" font-size="8.3" font-weight="normal" text-anchor="middle" fill="#000" >100</text>
<text x="472.2" y="415.7" font-size="8.3" font-weight="normal" text-anchor="middle" fill="#000" >1000</text>
<text x="519.1" y="415.7" font-size="8.3" font-weight="normal" text-anchor="middle" fill="#000" >5000</text>
<text x="451.6" y="424" font-size="8.35" text-anchor="middle">Current density (mA g<tspan dy="-2.6" font-size="5.2">-1</tspan><tspan dy="2.6">)</tspan></text>
<text transform="translate(358.8,351.5) rotate(-90)" font-size="8.4" text-anchor="middle" stroke="#000" stroke-width="0.25">Specific capacity (mAh g<tspan dy="-2.6" font-size="5.2">-1</tspan><tspan dy="2.6">)</tspan></text>
<text transform="translate(545.6,344.5) rotate(-90)" font-size="8.2" font-weight="bold" text-anchor="middle">C<tspan dy="1.8" font-size="5.4">x</tspan><tspan dy="-1.8"> / C</tspan><tspan dy="1.8" font-size="5.5">CNT@TiO2</tspan><tspan dy="-1.8"> (%)</tspan></text>
<path d="M388.1 303.1 L426.9 324.5 L465.6 329.5 L485.0 328.9 L497.5 327.8 L502.6 327.1 L516.9 324.0" fill="none" stroke="#000" stroke-width="0.9" stroke-linejoin="round"/>
<rect x="385.8" y="301.0" width="4.6" height="4.2" fill="#000"/><rect x="387.9" y="301.8" width="1.3" height="2.6" fill="#fff"/>
<rect x="424.6" y="322.4" width="4.6" height="4.2" fill="#000"/><rect x="426.7" y="323.2" width="1.3" height="2.6" fill="#fff"/>
<rect x="463.3" y="327.4" width="4.6" height="4.2" fill="#000"/><rect x="465.4" y="328.2" width="1.3" height="2.6" fill="#fff"/>
<rect x="482.7" y="326.8" width="4.6" height="4.2" fill="#000"/><rect x="484.8" y="327.6" width="1.3" height="2.6" fill="#fff"/>
<rect x="495.2" y="325.7" width="4.6" height="4.2" fill="#000"/><rect x="497.3" y="326.5" width="1.3" height="2.6" fill="#fff"/>
<rect x="500.3" y="325.0" width="4.6" height="4.2" fill="#000"/><rect x="502.4" y="325.8" width="1.3" height="2.6" fill="#fff"/>
<rect x="514.6" y="321.9" width="4.6" height="4.2" fill="#000"/><rect x="516.7" y="322.7" width="1.3" height="2.6" fill="#fff"/>
<path d="M388.1 356.3 L426.9 365.1 L465.6 370.5" fill="none" stroke="#fff" stroke-width="1.1" stroke-linejoin="round"/>
<path d="M465.6 370.5 L516.9 373.4" stroke="#fff3c0" stroke-width="1.2" fill="none"/>
<path d="M388.1 360.3 L426.9 371.3 L465.6 377.5 L485.0 389.1 L497.5 390.6 L502.6 390.6 L516.9 392.4" fill="none" stroke="#e8eefc" stroke-width="1.0" stroke-linejoin="round"/>
<path d="M388.1 376.0 L426.9 381.0 L465.6 386.5 L485.0 389.0 L497.5 390.6 L502.6 390.6 L516.9 392.4" fill="none" stroke="#000" stroke-width="1.0" stroke-linejoin="round"/>
<path d="M388.1 386.3 L426.9 392.4 L465.6 396.7 L485.0 397.8 L497.5 397.8 L502.6 397.8 L516.9 397.8" fill="none" stroke="#e8eefc" stroke-width="1.0" stroke-linejoin="round"/>
<rect x="385.6" y="354.2" width="5" height="4.2" fill="#cc22aa"/>
<rect x="424.4" y="363.0" width="5" height="4.2" fill="#cc22aa"/>
<rect x="463.1" y="368.4" width="5" height="4.2" fill="#cc22aa"/>
<rect x="482.5" y="370.0" width="5" height="4.2" fill="#cc22aa"/>
<rect x="495.0" y="370.6" width="5" height="4.2" fill="#cc22aa"/>
<rect x="500.1" y="370.7" width="5" height="4.2" fill="#cc22aa"/>
<rect x="514.4" y="371.3" width="5" height="4.2" fill="#cc22aa"/>
<ellipse cx="388.1" cy="360.3" rx="2.9" ry="2.5" fill="#fff" stroke="#ff7a10" stroke-width="1.1"/>
<ellipse cx="426.9" cy="371.3" rx="2.9" ry="2.5" fill="#fff" stroke="#ff7a10" stroke-width="1.1"/>
<ellipse cx="465.6" cy="377.5" rx="2.9" ry="2.5" fill="#fff" stroke="#ff7a10" stroke-width="1.1"/>
<ellipse cx="485.0" cy="389.1" rx="3.1" ry="2.7" fill="none" stroke="#e05a10" stroke-width="1.0"/>
<ellipse cx="497.5" cy="390.6" rx="3.1" ry="2.7" fill="none" stroke="#e05a10" stroke-width="1.0"/>
<ellipse cx="502.6" cy="390.6" rx="3.1" ry="2.7" fill="none" stroke="#e05a10" stroke-width="1.0"/>
<ellipse cx="516.9" cy="392.4" rx="3.1" ry="2.7" fill="none" stroke="#e05a10" stroke-width="1.0"/>
<rect x="385.8" y="373.9" width="4.6" height="4.2" fill="#000"/><rect x="387.9" y="374.7" width="1.3" height="2.6" fill="#fff"/>
<rect x="424.6" y="378.9" width="4.6" height="4.2" fill="#000"/><rect x="426.7" y="379.7" width="1.3" height="2.6" fill="#fff"/>
<rect x="463.3" y="384.4" width="4.6" height="4.2" fill="#000"/><rect x="465.4" y="385.2" width="1.3" height="2.6" fill="#fff"/>
<rect x="482.7" y="386.9" width="4.6" height="4.2" fill="#000"/><rect x="484.8" y="387.7" width="1.3" height="2.6" fill="#fff"/>
<rect x="495.2" y="388.5" width="4.6" height="4.2" fill="#000"/><rect x="497.3" y="389.3" width="1.3" height="2.6" fill="#fff"/>
<rect x="500.3" y="388.5" width="4.6" height="4.2" fill="#000"/><rect x="502.4" y="389.3" width="1.3" height="2.6" fill="#fff"/>
<rect x="514.6" y="390.3" width="4.6" height="4.2" fill="#000"/><rect x="516.7" y="391.1" width="1.3" height="2.6" fill="#fff"/>
<path d="M388.1 384.1 l2.3 3.8 h-4.6 z" fill="#fff"/>
<path d="M426.9 390.2 l2.3 3.8 h-4.6 z" fill="#fff"/>
<path d="M465.6 394.5 l2.3 3.8 h-4.6 z" fill="#fff"/>
<path d="M485.0 395.6 l2.3 3.8 h-4.6 z" fill="#fff"/>
<path d="M497.5 395.6 l2.3 3.8 h-4.6 z" fill="#fff"/>
<path d="M502.6 395.6 l2.3 3.8 h-4.6 z" fill="#fff"/>
<path d="M516.9 395.6 l2.3 3.8 h-4.6 z" fill="#fff"/>
<text x="395.2" y="305.8" font-size="7.8" font-weight="normal" text-anchor="start" fill="#fff2b0" >CNT core</text>
<text x="385.5" y="351.2" font-size="7.8" fill="#ffe98a">CNT@TiO<tspan dy="2" font-size="5">2</tspan></text>
<text x="385.5" y="370.0" font-size="7.8" font-weight="normal" text-anchor="start" fill="#a9caff" >CNT</text>
<text x="385" y="383.6" font-size="7.5" fill="#fff">TiO<tspan dy="2" font-size="5">2</tspan><tspan dy="-2"> sheath</tspan></text>
<text x="385" y="396.2" font-size="7.8" fill="#fff">TiO<tspan dy="2" font-size="5">2</tspan></text>
<rect x="467.4" y="304.4" width="31.8" height="15.6" fill="#fff" stroke="#000" stroke-width="0.8"/>
<rect x="469" y="306.3" width="13.4" height="4.6" fill="#0c2090"/><path d="M469 306.3 h13.4 l-13.4 4.6z" fill="#0c2090"/>
<rect x="469" y="314.2" width="13.4" height="4.6" fill="#ff6c00"/><path d="M469 313.2 h13.4 l-13.4 4z" fill="#fff" opacity="0.0"/>
<text x="484.5" y="310.6" font-size="5.6">TiO<tspan dy="1.4" font-size="3.8">2</tspan></text>
<text x="484.5" y="318.6" font-size="5.6">CNT</text>
<line x1="500.8" y1="314.6" x2="516" y2="314.6" stroke="#000" stroke-width="0.9"/><path d="M520 314.6 l-5 -1.9 v3.8 z" fill="#000"/>
</svg>
</body></html>
